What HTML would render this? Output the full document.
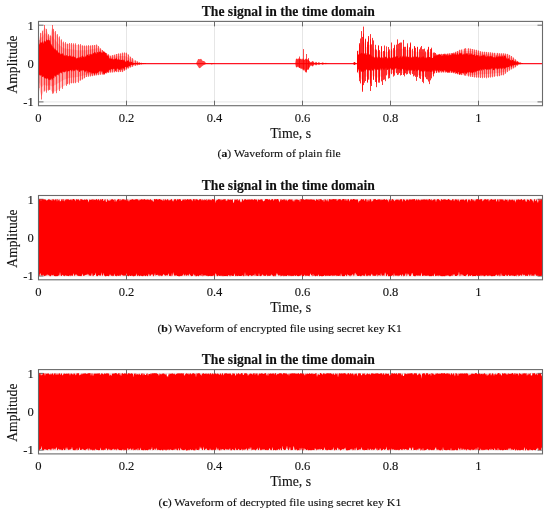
<!DOCTYPE html>
<html><head><meta charset="utf-8"><title>The signal in the time domain</title>
<style>html,body{margin:0;padding:0;background:#fff;} svg{display:block;filter:blur(0.3px);} text{font-family:'Liberation Serif','Times New Roman',serif;fill:#111;stroke:#111;stroke-width:0.12px;}</style></head>
<body>
<svg width="550" height="514" viewBox="0 0 550 514">
<rect width="550" height="514" fill="#fff"/>
<g><path d="M126.5,21.4V105.7M214.5,21.4V105.7M302.5,21.4V105.7M390.5,21.4V105.7M478.5,21.4V105.7M38.5,25.2H542.5M38.5,63.5H542.5M38.5,101.9H542.5" stroke="#e6e6e6" stroke-width="1" fill="none"/><path d="M38.5,105.7v-5M38.5,21.4v5M126.5,105.7v-5M126.5,21.4v5M214.5,105.7v-5M214.5,21.4v5M302.5,105.7v-5M302.5,21.4v5M390.5,105.7v-5M390.5,21.4v5M478.5,105.7v-5M478.5,21.4v5M38.5,25.2h5M542.5,25.2h-5M38.5,63.5h5M542.5,63.5h-5M38.5,101.9h5M542.5,101.9h-5" stroke="#6a6a6a" stroke-width="1" fill="none"/><path d="M38.5,63.50H542.5" stroke="#ff1424" stroke-width="1.25" fill="none"/><path d="M38.6,40.5 L39.1,38.7 L39.6,37.0 L40.1,35.2 L40.6,34.0 L41.1,33.5 L41.6,33.0 L42.1,32.6 L42.6,32.1 L43.1,30.7 L43.6,29.4 L44.1,28.0 L44.6,27.1 L45.1,27.9 L45.6,28.7 L46.1,29.5 L46.6,30.4 L47.1,31.6 L47.6,32.8 L48.1,34.0 L48.6,35.0 L49.1,35.3 L49.6,35.6 L50.1,36.0 L50.6,35.2 L51.1,32.4 L51.6,29.7 L52.1,27.7 L52.6,28.7 L53.1,29.7 L53.6,30.7 L54.1,31.5 L54.6,32.1 L55.1,32.6 L55.6,33.2 L56.1,34.0 L56.6,34.9 L57.1,35.7 L57.6,36.5 L58.1,37.0 L58.6,37.5 L59.1,38.1 L59.6,38.7 L60.1,39.4 L60.6,40.0 L61.1,40.7 L61.6,41.3 L62.1,41.9 L62.6,42.4 L63.1,42.9 L63.6,43.2 L64.1,43.3 L64.6,43.5 L65.1,43.6 L65.6,43.7 L66.1,43.7 L66.6,43.8 L67.1,43.9 L67.6,43.9 L68.1,44.0 L68.6,44.1 L69.1,44.1 L69.6,44.2 L70.1,44.2 L70.6,44.3 L71.1,44.3 L71.6,44.4 L72.1,44.4 L72.6,44.5 L73.1,44.5 L73.6,44.6 L74.1,44.6 L74.6,44.7 L75.1,44.7 L75.6,44.7 L76.1,44.8 L76.6,44.9 L77.1,44.9 L77.6,45.0 L78.1,45.1 L78.6,45.1 L79.1,45.2 L79.6,45.3 L80.1,45.4 L80.6,45.4 L81.1,45.5 L81.6,45.6 L82.1,45.7 L82.6,45.7 L83.1,45.8 L83.6,45.9 L84.1,46.0 L84.6,46.0 L85.1,46.1 L85.6,46.2 L86.1,46.3 L86.6,46.2 L87.1,46.2 L87.6,46.1 L88.1,46.1 L88.6,46.0 L89.1,45.9 L89.6,45.9 L90.1,45.8 L90.6,45.8 L91.1,45.7 L91.6,45.6 L92.1,45.6 L92.6,45.5 L93.1,45.5 L93.6,45.4 L94.1,45.4 L94.6,45.3 L95.1,45.3 L95.6,45.2 L96.1,45.2 L96.6,45.2 L97.1,45.2 L97.6,45.1 L98.1,45.7 L98.6,46.4 L99.1,47.0 L99.6,47.6 L100.1,48.2 L100.6,48.6 L101.1,49.1 L101.6,49.5 L102.1,49.9 L102.6,50.3 L103.1,50.7 L103.6,51.1 L104.1,51.4 L104.6,51.8 L105.1,52.2 L105.6,52.6 L106.1,52.9 L106.6,53.2 L107.1,53.6 L107.6,53.9 L108.1,54.2 L108.6,54.6 L109.1,54.9 L109.6,55.3 L110.1,55.6 L110.6,55.9 L111.1,55.7 L111.6,55.6 L112.1,55.4 L112.6,55.3 L113.1,55.2 L113.6,55.0 L114.1,54.9 L114.6,54.7 L115.1,54.6 L115.6,54.4 L116.1,54.3 L116.6,54.2 L117.1,54.1 L117.6,54.0 L118.1,54.0 L118.6,53.9 L119.1,53.8 L119.6,53.7 L120.1,53.6 L120.6,53.5 L121.1,53.4 L121.6,53.4 L122.1,53.3 L122.6,53.3 L123.1,53.3 L123.6,53.2 L124.1,53.2 L124.6,53.1 L125.1,53.1 L125.6,53.1 L126.1,53.0 L126.6,53.4 L127.1,53.9 L127.6,54.3 L128.1,54.8 L128.6,55.3 L129.1,55.8 L129.6,56.2 L130.1,56.7 L130.6,57.2 L131.1,57.5 L131.6,57.9 L132.1,58.3 L132.6,58.6 L133.1,59.0 L133.6,59.3 L134.1,59.7 L134.6,60.1 L135.1,60.4 L135.6,60.6 L136.1,60.9 L136.6,61.1 L137.1,61.3 L137.6,61.5 L138.1,61.8 L138.6,62.0 L139.1,62.2 L139.6,62.4 L140.1,62.6 L140.6,62.7 L141.1,62.8 L141.6,62.8 L142.1,62.9 L142.6,63.0 L143.1,63.0 L143.6,63.1 L144.1,63.1 L144.6,63.2 L145.1,63.3 L145.6,63.3 L145.6,64.0 L145.1,64.0 L144.6,64.0 L144.1,64.0 L143.6,64.1 L143.1,64.1 L142.6,64.2 L142.1,64.3 L141.6,64.3 L141.1,64.5 L140.6,64.6 L140.1,64.7 L139.6,64.8 L139.1,64.9 L138.6,65.0 L138.1,65.1 L137.6,65.2 L137.1,65.3 L136.6,65.4 L136.1,65.6 L135.6,65.7 L135.1,65.8 L134.6,65.9 L134.1,66.1 L133.6,66.3 L133.1,66.5 L132.6,66.7 L132.1,66.9 L131.6,67.1 L131.1,67.3 L130.6,67.5 L130.1,67.6 L129.6,67.8 L129.1,68.0 L128.6,68.2 L128.1,68.4 L127.6,68.7 L127.1,69.1 L126.6,69.4 L126.1,69.7 L125.6,70.0 L125.1,70.3 L124.6,70.7 L124.1,71.0 L123.6,71.3 L123.1,71.6 L122.6,71.8 L122.1,71.8 L121.6,71.8 L121.1,71.8 L120.6,71.8 L120.1,71.8 L119.6,71.9 L119.1,71.9 L118.6,71.9 L118.1,71.9 L117.6,71.9 L117.1,71.9 L116.6,72.0 L116.1,72.0 L115.6,72.1 L115.1,72.1 L114.6,72.1 L114.1,72.2 L113.6,72.2 L113.1,72.3 L112.6,72.3 L112.1,72.4 L111.6,72.4 L111.1,72.5 L110.6,72.5 L110.1,72.6 L109.6,72.6 L109.1,72.7 L108.6,72.8 L108.1,72.8 L107.6,73.0 L107.1,73.2 L106.6,73.3 L106.1,73.5 L105.6,73.6 L105.1,73.8 L104.6,74.0 L104.1,74.1 L103.6,74.2 L103.1,74.3 L102.6,74.3 L102.1,74.4 L101.6,74.4 L101.1,74.5 L100.6,74.6 L100.1,74.7 L99.6,74.8 L99.1,74.8 L98.6,74.9 L98.1,75.0 L97.6,75.1 L97.1,75.2 L96.6,75.2 L96.1,75.3 L95.6,75.4 L95.1,75.5 L94.6,75.6 L94.1,75.6 L93.6,75.7 L93.1,75.8 L92.6,75.8 L92.1,75.9 L91.6,76.0 L91.1,76.1 L90.6,76.1 L90.1,76.2 L89.6,76.3 L89.1,76.4 L88.6,76.4 L88.1,76.5 L87.6,76.6 L87.1,76.6 L86.6,76.7 L86.1,76.8 L85.6,77.2 L85.1,77.5 L84.6,77.8 L84.1,78.1 L83.6,78.4 L83.1,78.7 L82.6,79.0 L82.1,79.3 L81.6,79.6 L81.1,79.9 L80.6,80.2 L80.1,80.5 L79.6,80.8 L79.1,81.1 L78.6,81.4 L78.1,81.7 L77.6,82.0 L77.1,82.1 L76.6,82.2 L76.1,82.3 L75.6,82.4 L75.1,82.5 L74.6,82.6 L74.1,82.7 L73.6,82.8 L73.1,82.8 L72.6,82.8 L72.1,82.9 L71.6,82.9 L71.1,82.9 L70.6,82.9 L70.1,82.9 L69.6,83.0 L69.1,83.2 L68.6,83.4 L68.1,83.6 L67.6,83.8 L67.1,84.0 L66.6,84.2 L66.1,84.5 L65.6,84.8 L65.1,85.2 L64.6,85.5 L64.1,85.8 L63.6,86.1 L63.1,86.4 L62.6,86.7 L62.1,87.0 L61.6,87.4 L61.1,87.8 L60.6,88.2 L60.1,88.5 L59.6,88.9 L59.1,89.2 L58.6,89.5 L58.1,89.9 L57.6,90.2 L57.1,90.5 L56.6,90.8 L56.1,91.1 L55.6,91.2 L55.1,91.3 L54.6,91.4 L54.1,91.5 L53.6,91.6 L53.1,91.7 L52.6,91.8 L52.1,91.9 L51.6,91.3 L51.1,90.7 L50.6,90.1 L50.1,89.5 L49.6,88.9 L49.1,89.1 L48.6,89.4 L48.1,89.8 L47.6,90.1 L47.1,90.4 L46.6,90.8 L46.1,91.0 L45.6,90.7 L45.1,90.3 L44.6,90.0 L44.1,90.3 L43.6,91.5 L43.1,92.6 L42.6,93.8 L42.1,95.0 L41.6,96.2 L41.1,95.6 L40.6,93.7 L40.1,91.9 L39.6,90.1 L39.1,88.2 L38.6,86.4ZM437.0,53.8 L437.5,53.9 L438.0,53.9 L438.5,54.0 L439.0,54.0 L439.5,54.0 L440.0,54.0 L440.5,54.0 L441.0,54.0 L441.5,54.0 L442.0,54.0 L442.5,53.9 L443.0,53.9 L443.5,53.9 L444.0,53.9 L444.5,53.9 L445.0,53.9 L445.5,53.9 L446.0,53.8 L446.5,53.8 L447.0,53.7 L447.5,53.7 L448.0,53.6 L448.5,53.5 L449.0,53.5 L449.5,53.4 L450.0,53.4 L450.5,53.3 L451.0,53.3 L451.5,53.2 L452.0,53.2 L452.5,53.1 L453.0,52.9 L453.5,52.7 L454.0,52.6 L454.5,52.4 L455.0,52.2 L455.5,52.0 L456.0,51.8 L456.5,51.6 L457.0,51.3 L457.5,51.1 L458.0,50.9 L458.5,50.7 L459.0,50.5 L459.5,50.3 L460.0,50.1 L460.5,49.9 L461.0,49.8 L461.5,49.7 L462.0,49.6 L462.5,49.5 L463.0,49.4 L463.5,49.2 L464.0,49.1 L464.5,49.0 L465.0,48.9 L465.5,48.8 L466.0,48.8 L466.5,48.8 L467.0,48.8 L467.5,48.8 L468.0,48.8 L468.5,48.8 L469.0,48.8 L469.5,48.8 L470.0,48.8 L470.5,48.8 L471.0,48.9 L471.5,49.0 L472.0,49.1 L472.5,49.2 L473.0,49.3 L473.5,49.5 L474.0,49.6 L474.5,49.7 L475.0,49.9 L475.5,50.0 L476.0,50.1 L476.5,50.3 L477.0,50.4 L477.5,50.6 L478.0,50.8 L478.5,50.9 L479.0,51.1 L479.5,51.2 L480.0,51.4 L480.5,51.5 L481.0,51.7 L481.5,51.8 L482.0,51.8 L482.5,51.9 L483.0,51.9 L483.5,52.0 L484.0,52.0 L484.5,52.1 L485.0,52.1 L485.5,52.2 L486.0,52.2 L486.5,52.3 L487.0,52.3 L487.5,52.4 L488.0,52.4 L488.5,52.5 L489.0,52.5 L489.5,52.6 L490.0,52.6 L490.5,52.6 L491.0,52.7 L491.5,52.7 L492.0,52.8 L492.5,52.8 L493.0,52.9 L493.5,52.9 L494.0,52.9 L494.5,53.0 L495.0,53.0 L495.5,53.1 L496.0,53.1 L496.5,53.2 L497.0,53.2 L497.5,53.2 L498.0,53.3 L498.5,53.3 L499.0,53.4 L499.5,53.4 L500.0,53.4 L500.5,53.5 L501.0,53.5 L501.5,53.5 L502.0,53.5 L502.5,53.5 L503.0,53.5 L503.5,53.5 L504.0,53.5 L504.5,53.5 L505.0,53.6 L505.5,53.7 L506.0,53.9 L506.5,54.0 L507.0,54.2 L507.5,54.3 L508.0,54.5 L508.5,54.6 L509.0,54.8 L509.5,55.1 L510.0,55.3 L510.5,55.6 L511.0,55.9 L511.5,56.1 L512.0,56.6 L512.5,57.0 L513.0,57.4 L513.5,57.9 L514.0,58.3 L514.5,58.8 L515.0,59.2 L515.5,59.6 L516.0,59.9 L516.5,60.3 L517.0,60.7 L517.5,61.1 L518.0,61.3 L518.5,61.6 L519.0,61.8 L519.5,62.1 L520.0,62.3 L520.5,62.5 L521.0,62.6 L521.5,62.8 L522.0,62.9 L522.5,63.0 L523.0,63.2 L523.0,63.8 L522.5,63.9 L522.0,64.0 L521.5,64.0 L521.0,64.1 L520.5,64.2 L520.0,64.4 L519.5,64.6 L519.0,64.9 L518.5,65.1 L518.0,65.3 L517.5,65.6 L517.0,65.9 L516.5,66.3 L516.0,66.7 L515.5,67.1 L515.0,67.5 L514.5,67.9 L514.0,68.1 L513.5,68.3 L513.0,68.6 L512.5,68.8 L512.0,69.1 L511.5,69.3 L511.0,69.5 L510.5,69.8 L510.0,70.1 L509.5,70.4 L509.0,70.7 L508.5,71.0 L508.0,71.3 L507.5,71.6 L507.0,72.1 L506.5,72.5 L506.0,73.0 L505.5,73.5 L505.0,74.0 L504.5,74.3 L504.0,74.4 L503.5,74.6 L503.0,74.7 L502.5,74.9 L502.0,75.0 L501.5,75.2 L501.0,75.3 L500.5,75.5 L500.0,75.6 L499.5,75.7 L499.0,75.7 L498.5,75.8 L498.0,75.9 L497.5,75.9 L497.0,76.0 L496.5,76.1 L496.0,76.1 L495.5,76.2 L495.0,76.3 L494.5,76.3 L494.0,76.4 L493.5,76.5 L493.0,76.5 L492.5,76.6 L492.0,76.6 L491.5,76.7 L491.0,76.8 L490.5,76.8 L490.0,76.9 L489.5,77.0 L489.0,77.0 L488.5,77.1 L488.0,77.2 L487.5,77.2 L487.0,77.3 L486.5,77.3 L486.0,77.3 L485.5,77.3 L485.0,77.3 L484.5,77.3 L484.0,77.3 L483.5,77.3 L483.0,77.3 L482.5,77.3 L482.0,77.3 L481.5,77.3 L481.0,77.3 L480.5,77.3 L480.0,77.3 L479.5,77.4 L479.0,77.3 L478.5,77.3 L478.0,77.3 L477.5,77.2 L477.0,77.2 L476.5,77.2 L476.0,77.1 L475.5,77.1 L475.0,77.1 L474.5,77.0 L474.0,77.0 L473.5,77.0 L473.0,77.0 L472.5,76.9 L472.0,76.9 L471.5,76.8 L471.0,76.7 L470.5,76.6 L470.0,76.4 L469.5,76.3 L469.0,76.2 L468.5,76.1 L468.0,76.0 L467.5,75.9 L467.0,75.8 L466.5,75.7 L466.0,75.6 L465.5,75.5 L465.0,75.4 L464.5,75.3 L464.0,75.2 L463.5,75.2 L463.0,75.1 L462.5,75.0 L462.0,75.0 L461.5,74.9 L461.0,74.8 L460.5,74.8 L460.0,74.7 L459.5,74.7 L459.0,74.5 L458.5,74.4 L458.0,74.3 L457.5,74.2 L457.0,74.0 L456.5,73.9 L456.0,73.8 L455.5,73.7 L455.0,73.5 L454.5,73.4 L454.0,73.3 L453.5,73.2 L453.0,73.0 L452.5,72.9 L452.0,72.9 L451.5,72.8 L451.0,72.8 L450.5,72.8 L450.0,72.7 L449.5,72.7 L449.0,72.7 L448.5,72.7 L448.0,72.6 L447.5,72.6 L447.0,72.6 L446.5,72.5 L446.0,72.5 L445.5,72.5 L445.0,72.4 L444.5,72.4 L444.0,72.4 L443.5,72.4 L443.0,72.4 L442.5,72.4 L442.0,72.4 L441.5,72.4 L441.0,72.4 L440.5,72.4 L440.0,72.4 L439.5,72.4 L439.0,72.4 L438.5,72.5 L438.0,72.5 L437.5,72.5 L437.0,72.5Z" fill="#ff0000" fill-opacity="0.22"/><path d="M38.6,42.0 L39.1,40.9 L39.6,39.8 L40.1,38.7 L40.6,37.9 L41.1,37.6 L41.6,37.2 L42.1,36.9 L42.6,36.5 L43.1,35.6 L43.6,34.7 L44.1,33.7 L44.6,33.0 L45.1,33.3 L45.6,33.6 L46.1,33.9 L46.6,34.4 L47.1,35.1 L47.6,35.8 L48.1,36.5 L48.6,37.1 L49.1,37.4 L49.6,37.6 L50.1,38.3 L50.6,38.3 L51.1,37.2 L51.6,36.1 L52.1,35.5 L52.6,36.5 L53.1,37.5 L53.6,38.2 L54.1,38.9 L54.6,39.4 L55.1,39.9 L55.6,40.4 L56.1,41.0 L56.6,41.7 L57.1,42.3 L57.6,42.9 L58.1,43.4 L58.6,43.9 L59.1,44.3 L59.6,44.9 L60.1,45.4 L60.6,45.9 L61.1,46.3 L61.6,46.8 L62.1,47.1 L62.6,47.5 L63.1,47.9 L63.6,48.1 L64.1,48.2 L64.6,48.4 L65.1,48.5 L65.6,48.6 L66.1,48.6 L66.6,48.7 L67.1,48.8 L67.6,48.9 L68.1,49.0 L68.6,49.0 L69.1,49.1 L69.6,49.2 L70.1,49.3 L70.6,49.3 L71.1,49.4 L71.6,49.4 L72.1,49.5 L72.6,49.5 L73.1,49.6 L73.6,49.7 L74.1,49.7 L74.6,49.8 L75.1,49.8 L75.6,49.9 L76.1,50.0 L76.6,50.1 L77.1,50.2 L77.6,50.3 L78.1,50.3 L78.6,50.3 L79.1,50.3 L79.6,50.3 L80.1,50.3 L80.6,50.3 L81.1,50.3 L81.6,50.3 L82.1,50.3 L82.6,50.3 L83.1,50.3 L83.6,50.3 L84.1,50.3 L84.6,50.3 L85.1,50.3 L85.6,50.3 L86.1,50.3 L86.6,50.2 L87.1,50.1 L87.6,50.0 L88.1,49.9 L88.6,49.8 L89.1,49.7 L89.6,49.6 L90.1,49.5 L90.6,49.5 L91.1,49.4 L91.6,49.3 L92.1,49.2 L92.6,49.1 L93.1,49.0 L93.6,48.9 L94.1,48.8 L94.6,48.7 L95.1,48.6 L95.6,48.5 L96.1,48.4 L96.6,48.3 L97.1,48.2 L97.6,48.1 L98.1,48.3 L98.6,48.6 L99.1,48.9 L99.6,49.2 L100.1,49.6 L100.6,49.9 L101.1,50.2 L101.6,50.5 L102.1,50.9 L102.6,51.2 L103.1,51.5 L103.6,51.8 L104.1,52.1 L104.6,52.4 L105.1,52.8 L105.6,53.1 L106.1,53.5 L106.6,53.8 L107.1,54.2 L107.6,54.5 L108.1,54.9 L108.6,55.3 L109.1,55.7 L109.6,56.1 L110.1,56.6 L110.6,56.9 L111.1,56.8 L111.6,56.8 L112.1,56.7 L112.6,56.7 L113.1,56.6 L113.6,56.5 L114.1,56.5 L114.6,56.4 L115.1,56.4 L115.6,56.3 L116.1,56.3 L116.6,56.2 L117.1,56.2 L117.6,56.2 L118.1,56.2 L118.6,56.2 L119.1,56.1 L119.6,56.1 L120.1,56.1 L120.6,56.1 L121.1,56.1 L121.6,56.1 L122.1,56.1 L122.6,56.1 L123.1,56.1 L123.6,56.1 L124.1,56.1 L124.6,56.1 L125.1,56.2 L125.6,56.2 L126.1,56.3 L126.6,56.5 L127.1,56.9 L127.6,57.2 L128.1,57.6 L128.6,57.9 L129.1,58.2 L129.6,58.6 L130.1,58.9 L130.6,59.2 L131.1,59.5 L131.6,59.7 L132.1,60.0 L132.6,60.3 L133.1,60.5 L133.6,60.8 L134.1,61.1 L134.6,61.3 L135.1,61.6 L135.6,61.7 L136.1,61.8 L136.6,62.0 L137.1,62.1 L137.6,62.3 L138.1,62.4 L138.6,62.5 L139.1,62.7 L139.6,62.8 L140.1,62.9 L140.6,63.0 L141.1,63.0 L141.6,63.0 L142.1,63.1 L142.6,63.1 L143.1,63.1 L143.6,63.2 L144.1,63.2 L144.6,63.2 L145.1,63.3 L145.6,63.3 L145.6,64.0 L145.1,64.0 L144.6,64.0 L144.1,64.0 L143.6,64.0 L143.1,64.1 L142.6,64.1 L142.1,64.1 L141.6,64.2 L141.1,64.3 L140.6,64.3 L140.1,64.4 L139.6,64.5 L139.1,64.5 L138.6,64.6 L138.1,64.7 L137.6,64.8 L137.1,64.8 L136.6,64.9 L136.1,65.0 L135.6,65.1 L135.1,65.1 L134.6,65.3 L134.1,65.5 L133.6,65.6 L133.1,65.8 L132.6,66.0 L132.1,66.2 L131.6,66.4 L131.1,66.5 L130.6,66.7 L130.1,66.9 L129.6,67.1 L129.1,67.3 L128.6,67.5 L128.1,67.7 L127.6,68.0 L127.1,68.3 L126.6,68.6 L126.1,68.9 L125.6,69.2 L125.1,69.5 L124.6,69.8 L124.1,70.0 L123.6,70.2 L123.1,70.4 L122.6,70.6 L122.1,70.6 L121.6,70.6 L121.1,70.7 L120.6,70.7 L120.1,70.7 L119.6,70.8 L119.1,70.8 L118.6,70.8 L118.1,70.9 L117.6,70.9 L117.1,70.9 L116.6,71.0 L116.1,71.0 L115.6,71.1 L115.1,71.1 L114.6,71.2 L114.1,71.2 L113.6,71.3 L113.1,71.3 L112.6,71.4 L112.1,71.4 L111.6,71.5 L111.1,71.5 L110.6,71.6 L110.1,71.7 L109.6,71.9 L109.1,72.0 L108.6,72.2 L108.1,72.4 L107.6,72.6 L107.1,72.8 L106.6,73.0 L106.1,73.2 L105.6,73.4 L105.1,73.6 L104.6,73.8 L104.1,74.1 L103.6,73.9 L103.1,73.6 L102.6,73.4 L102.1,73.1 L101.6,73.2 L101.1,73.3 L100.6,73.4 L100.1,73.5 L99.6,73.7 L99.1,73.8 L98.6,73.9 L98.1,74.1 L97.6,74.2 L97.1,74.3 L96.6,74.4 L96.1,74.6 L95.6,74.7 L95.1,74.8 L94.6,74.8 L94.1,74.8 L93.6,74.8 L93.1,74.8 L92.6,74.8 L92.1,74.8 L91.6,74.8 L91.1,74.8 L90.6,74.8 L90.1,74.8 L89.6,74.8 L89.1,74.8 L88.6,74.8 L88.1,74.8 L87.6,74.8 L87.1,74.8 L86.6,74.8 L86.1,74.8 L85.6,75.0 L85.1,75.1 L84.6,75.2 L84.1,75.4 L83.6,75.5 L83.1,75.6 L82.6,75.8 L82.1,75.9 L81.6,76.0 L81.1,76.1 L80.6,76.2 L80.1,76.4 L79.6,76.5 L79.1,76.6 L78.6,76.7 L78.1,76.9 L77.6,77.0 L77.1,77.1 L76.6,77.1 L76.1,77.2 L75.6,77.3 L75.1,77.3 L74.6,77.4 L74.1,77.5 L73.6,77.6 L73.1,77.6 L72.6,77.6 L72.1,77.6 L71.6,77.6 L71.1,77.7 L70.6,77.7 L70.1,77.7 L69.6,77.8 L69.1,78.0 L68.6,78.1 L68.1,78.3 L67.6,78.4 L67.1,78.6 L66.6,78.8 L66.1,79.0 L65.6,79.2 L65.1,79.4 L64.6,79.6 L64.1,79.8 L63.6,80.0 L63.1,80.3 L62.6,80.5 L62.1,80.8 L61.6,81.1 L61.1,81.4 L60.6,81.7 L60.1,82.0 L59.6,82.4 L59.1,82.7 L58.6,82.9 L58.1,83.2 L57.6,83.5 L57.1,83.8 L56.6,84.1 L56.1,84.5 L55.6,84.8 L55.1,85.1 L54.6,85.3 L54.1,85.6 L53.6,85.9 L53.1,86.1 L52.6,86.4 L52.1,86.5 L51.6,86.2 L51.1,86.0 L50.6,85.7 L50.1,85.5 L49.6,85.2 L49.1,85.3 L48.6,85.4 L48.1,85.5 L47.6,85.6 L47.1,85.7 L46.6,85.8 L46.1,85.8 L45.6,85.4 L45.1,85.1 L44.6,84.8 L44.1,84.8 L43.6,85.3 L43.1,85.8 L42.6,86.3 L42.1,86.9 L41.6,87.5 L41.1,87.0 L40.6,85.9 L40.1,84.7 L39.6,83.6 L39.1,82.5 L38.6,81.5ZM437.0,54.8 L437.5,54.8 L438.0,54.8 L438.5,54.8 L439.0,54.7 L439.5,54.7 L440.0,54.6 L440.5,54.6 L441.0,54.5 L441.5,54.5 L442.0,54.4 L442.5,54.4 L443.0,54.3 L443.5,54.3 L444.0,54.2 L444.5,54.2 L445.0,54.2 L445.5,54.2 L446.0,54.1 L446.5,54.0 L447.0,54.0 L447.5,53.9 L448.0,53.9 L448.5,53.8 L449.0,53.8 L449.5,53.7 L450.0,53.7 L450.5,53.6 L451.0,53.6 L451.5,53.5 L452.0,53.5 L452.5,53.4 L453.0,53.3 L453.5,53.2 L454.0,53.1 L454.5,53.0 L455.0,52.8 L455.5,52.7 L456.0,52.6 L456.5,52.5 L457.0,52.3 L457.5,52.2 L458.0,52.1 L458.5,51.9 L459.0,51.8 L459.5,51.7 L460.0,51.6 L460.5,51.5 L461.0,51.5 L461.5,51.4 L462.0,51.4 L462.5,51.3 L463.0,51.3 L463.5,51.2 L464.0,51.1 L464.5,51.1 L465.0,51.0 L465.5,51.0 L466.0,51.0 L466.5,51.0 L467.0,51.0 L467.5,51.0 L468.0,51.0 L468.5,51.0 L469.0,51.0 L469.5,51.0 L470.0,51.0 L470.5,51.0 L471.0,51.0 L471.5,51.1 L472.0,51.1 L472.5,51.2 L473.0,51.3 L473.5,51.4 L474.0,51.6 L474.5,51.7 L475.0,51.8 L475.5,52.0 L476.0,52.1 L476.5,52.2 L477.0,52.4 L477.5,52.5 L478.0,52.7 L478.5,52.8 L479.0,53.0 L479.5,53.1 L480.0,53.2 L480.5,53.3 L481.0,53.4 L481.5,53.5 L482.0,53.5 L482.5,53.6 L483.0,53.6 L483.5,53.7 L484.0,53.7 L484.5,53.7 L485.0,53.8 L485.5,53.8 L486.0,53.9 L486.5,53.9 L487.0,53.9 L487.5,54.0 L488.0,54.0 L488.5,54.1 L489.0,54.1 L489.5,54.2 L490.0,54.2 L490.5,54.2 L491.0,54.2 L491.5,54.3 L492.0,54.3 L492.5,54.3 L493.0,54.3 L493.5,54.3 L494.0,54.3 L494.5,54.4 L495.0,54.4 L495.5,54.4 L496.0,54.4 L496.5,54.4 L497.0,54.4 L497.5,54.5 L498.0,54.5 L498.5,54.5 L499.0,54.5 L499.5,54.5 L500.0,54.6 L500.5,54.6 L501.0,54.6 L501.5,54.6 L502.0,54.7 L502.5,54.7 L503.0,54.7 L503.5,54.7 L504.0,54.8 L504.5,54.8 L505.0,54.9 L505.5,55.1 L506.0,55.3 L506.5,55.5 L507.0,55.7 L507.5,55.9 L508.0,56.1 L508.5,56.3 L509.0,56.5 L509.5,56.8 L510.0,57.0 L510.5,57.3 L511.0,57.5 L511.5,57.7 L512.0,58.0 L512.5,58.4 L513.0,58.7 L513.5,59.0 L514.0,59.4 L514.5,59.7 L515.0,60.0 L515.5,60.3 L516.0,60.6 L516.5,60.9 L517.0,61.2 L517.5,61.4 L518.0,61.7 L518.5,61.9 L519.0,62.1 L519.5,62.3 L520.0,62.5 L520.5,62.7 L521.0,62.8 L521.5,62.9 L522.0,63.0 L522.5,63.1 L523.0,63.2 L523.0,63.7 L522.5,63.8 L522.0,63.8 L521.5,63.9 L521.0,64.0 L520.5,64.1 L520.0,64.2 L519.5,64.3 L519.0,64.5 L518.5,64.7 L518.0,64.8 L517.5,65.0 L517.0,65.3 L516.5,65.6 L516.0,65.9 L515.5,66.2 L515.0,66.5 L514.5,66.8 L514.0,66.9 L513.5,67.1 L513.0,67.3 L512.5,67.5 L512.0,67.7 L511.5,67.9 L511.0,68.1 L510.5,68.3 L510.0,68.5 L509.5,68.8 L509.0,69.0 L508.5,69.2 L508.0,69.5 L507.5,69.7 L507.0,70.1 L506.5,70.5 L506.0,70.9 L505.5,71.2 L505.0,71.6 L504.5,71.9 L504.0,72.0 L503.5,72.1 L503.0,72.2 L502.5,72.3 L502.0,72.4 L501.5,72.5 L501.0,72.6 L500.5,72.7 L500.0,72.8 L499.5,72.9 L499.0,72.9 L498.5,73.0 L498.0,73.0 L497.5,73.1 L497.0,73.1 L496.5,73.2 L496.0,73.2 L495.5,73.3 L495.0,73.3 L494.5,73.3 L494.0,73.4 L493.5,73.4 L493.0,73.5 L492.5,73.5 L492.0,73.6 L491.5,73.6 L491.0,73.7 L490.5,73.7 L490.0,73.7 L489.5,73.8 L489.0,73.9 L488.5,73.9 L488.0,74.0 L487.5,74.0 L487.0,74.1 L486.5,74.1 L486.0,74.1 L485.5,74.1 L485.0,74.1 L484.5,74.2 L484.0,74.2 L483.5,74.2 L483.0,74.2 L482.5,74.2 L482.0,74.3 L481.5,74.3 L481.0,74.3 L480.5,74.3 L480.0,74.3 L479.5,74.3 L479.0,74.4 L478.5,74.5 L478.0,74.5 L477.5,74.6 L477.0,74.7 L476.5,74.7 L476.0,74.8 L475.5,74.9 L475.0,74.9 L474.5,75.0 L474.0,75.0 L473.5,75.1 L473.0,75.2 L472.5,75.2 L472.0,75.2 L471.5,75.1 L471.0,75.1 L470.5,75.0 L470.0,75.0 L469.5,74.9 L469.0,74.8 L468.5,74.8 L468.0,74.7 L467.5,74.7 L467.0,74.6 L466.5,74.5 L466.0,74.5 L465.5,74.4 L465.0,74.3 L464.5,74.3 L464.0,74.3 L463.5,74.2 L463.0,74.2 L462.5,74.2 L462.0,74.2 L461.5,74.2 L461.0,74.2 L460.5,74.2 L460.0,74.2 L459.5,74.2 L459.0,74.1 L458.5,73.9 L458.0,73.8 L457.5,73.7 L457.0,73.6 L456.5,73.5 L456.0,73.4 L455.5,73.3 L455.0,73.2 L454.5,73.0 L454.0,72.9 L453.5,72.8 L453.0,72.7 L452.5,72.6 L452.0,72.6 L451.5,72.5 L451.0,72.5 L450.5,72.4 L450.0,72.4 L449.5,72.4 L449.0,72.3 L448.5,72.3 L448.0,72.2 L447.5,72.2 L447.0,72.2 L446.5,72.1 L446.0,72.1 L445.5,72.0 L445.0,72.0 L444.5,72.0 L444.0,71.9 L443.5,71.9 L443.0,71.9 L442.5,71.9 L442.0,71.9 L441.5,71.9 L441.0,71.9 L440.5,71.9 L440.0,71.8 L439.5,71.8 L439.0,71.8 L438.5,71.8 L438.0,71.8 L437.5,71.8 L437.0,71.8ZM357.2,54.4 L357.7,52.4 L358.2,50.8 L358.7,50.0 L359.2,49.1 L359.7,48.2 L360.2,46.9 L360.7,45.5 L361.2,44.1 L361.7,42.8 L362.2,41.9 L362.7,41.3 L363.2,40.7 L363.7,40.1 L364.2,41.3 L364.7,43.0 L365.2,44.6 L365.7,46.2 L366.2,46.7 L366.7,47.3 L367.2,47.8 L367.7,46.9 L368.2,46.1 L368.7,45.2 L369.2,45.0 L369.7,44.8 L370.2,44.6 L370.7,45.2 L371.2,45.7 L371.7,46.2 L372.2,46.8 L372.7,47.4 L373.2,48.0 L373.7,48.6 L374.2,49.2 L374.7,49.9 L375.2,50.5 L375.7,50.9 L376.2,51.0 L376.7,51.0 L377.2,51.1 L377.7,51.2 L378.2,51.3 L378.7,51.4 L379.2,51.5 L379.7,51.6 L380.2,51.7 L380.7,51.8 L381.2,51.8 L381.7,51.9 L382.2,51.8 L382.7,51.8 L383.2,51.7 L383.7,51.6 L384.2,51.6 L384.7,51.5 L385.2,51.6 L385.7,51.7 L386.2,51.8 L386.7,51.9 L387.2,52.0 L387.7,52.1 L388.2,52.2 L388.7,52.0 L389.2,51.7 L389.7,51.3 L390.2,50.9 L390.7,50.5 L391.2,50.1 L391.7,50.0 L392.2,50.2 L392.7,50.3 L393.2,50.5 L393.7,50.7 L394.2,50.9 L394.7,50.8 L395.2,50.3 L395.7,49.9 L396.2,49.4 L396.7,48.9 L397.2,48.5 L397.7,48.3 L398.2,48.5 L398.7,48.8 L399.2,49.0 L399.7,49.2 L400.2,49.5 L400.7,49.6 L401.2,49.3 L401.7,49.1 L402.2,48.9 L402.7,48.6 L403.2,48.4 L403.7,48.3 L404.2,48.5 L404.7,48.8 L405.2,49.1 L405.7,49.3 L406.2,49.6 L406.7,49.9 L407.2,50.0 L407.7,50.0 L408.2,50.0 L408.7,50.0 L409.2,49.9 L409.7,49.8 L410.2,49.8 L410.7,49.8 L411.2,50.1 L411.7,50.3 L412.2,50.6 L412.7,50.8 L413.2,51.1 L413.7,51.3 L414.2,51.5 L414.7,51.6 L415.2,51.6 L415.7,51.7 L416.2,51.8 L416.7,51.8 L417.2,51.9 L417.7,51.9 L418.2,51.8 L418.7,51.8 L419.2,51.8 L419.7,51.7 L420.2,51.7 L420.7,51.6 L421.2,51.7 L421.7,51.9 L422.2,52.1 L422.7,52.3 L423.2,52.5 L423.7,52.7 L424.2,52.9 L424.7,53.0 L425.2,52.8 L425.7,52.7 L426.2,52.6 L426.7,52.5 L427.2,52.3 L427.7,52.1 L428.2,52.1 L428.7,52.1 L429.2,52.1 L429.7,52.2 L430.2,52.2 L430.7,52.2 L431.2,52.3 L431.7,52.4 L432.2,52.8 L432.7,53.1 L433.2,53.5 L433.7,53.8 L434.2,54.2 L434.7,54.5 L435.2,54.8 L435.7,54.8 L436.2,54.8 L436.7,54.8 L437.2,54.8 L437.7,54.8 L438.2,54.8 L438.7,54.8 L438.7,71.8 L438.2,71.8 L437.7,71.8 L437.2,71.8 L436.7,71.9 L436.2,72.1 L435.7,72.3 L435.2,72.6 L434.7,72.8 L434.2,73.1 L433.7,73.4 L433.2,73.7 L432.7,74.2 L432.2,74.8 L431.7,75.3 L431.2,75.8 L430.7,76.4 L430.2,76.9 L429.7,77.5 L429.2,77.4 L428.7,77.1 L428.2,76.7 L427.7,76.3 L427.2,75.9 L426.7,75.5 L426.2,75.4 L425.7,75.7 L425.2,76.0 L424.7,76.3 L424.2,76.7 L423.7,77.0 L423.2,77.3 L422.7,76.9 L422.2,76.6 L421.7,76.2 L421.2,75.9 L420.7,75.5 L420.2,75.2 L419.7,74.8 L419.2,74.8 L418.7,75.0 L418.2,75.3 L417.7,75.5 L417.2,75.7 L416.7,75.9 L416.2,75.5 L415.7,75.2 L415.2,74.9 L414.7,74.6 L414.2,74.2 L413.7,73.9 L413.2,73.6 L412.7,73.5 L412.2,73.4 L411.7,73.3 L411.2,73.2 L410.7,73.1 L410.2,73.0 L409.7,73.0 L409.2,72.9 L408.7,72.8 L408.2,72.7 L407.7,72.6 L407.2,72.6 L406.7,72.5 L406.2,72.7 L405.7,72.9 L405.2,73.0 L404.7,73.2 L404.2,73.4 L403.7,73.4 L403.2,73.3 L402.7,73.2 L402.2,73.1 L401.7,73.0 L401.2,72.9 L400.7,72.8 L400.2,72.7 L399.7,72.6 L399.2,72.5 L398.7,72.4 L398.2,72.4 L397.7,72.3 L397.2,72.3 L396.7,72.4 L396.2,72.4 L395.7,72.5 L395.2,72.6 L394.7,72.7 L394.2,72.7 L393.7,72.8 L393.2,72.9 L392.7,73.0 L392.2,73.1 L391.7,73.1 L391.2,73.2 L390.7,73.3 L390.2,73.4 L389.7,73.5 L389.2,73.6 L388.7,73.8 L388.2,74.0 L387.7,74.2 L387.2,74.4 L386.7,74.6 L386.2,74.8 L385.7,75.1 L385.2,75.3 L384.7,75.6 L384.2,76.0 L383.7,76.3 L383.2,76.6 L382.7,76.9 L382.2,77.1 L381.7,77.0 L381.2,76.8 L380.7,76.6 L380.2,76.4 L379.7,76.3 L379.2,76.2 L378.7,76.6 L378.2,77.0 L377.7,77.4 L377.2,77.8 L376.7,78.2 L376.2,78.4 L375.7,77.8 L375.2,77.2 L374.7,76.6 L374.2,76.0 L373.7,75.4 L373.2,74.8 L372.7,75.8 L372.2,76.8 L371.7,77.7 L371.2,78.7 L370.7,79.7 L370.2,80.6 L369.7,80.0 L369.2,79.3 L368.7,78.6 L368.2,78.0 L367.7,77.3 L367.2,76.6 L366.7,76.6 L366.2,76.7 L365.7,76.7 L365.2,76.7 L364.7,77.1 L364.2,78.2 L363.7,79.2 L363.2,80.2 L362.7,81.2 L362.2,80.7 L361.7,79.8 L361.2,78.9 L360.7,77.9 L360.2,77.0 L359.7,76.1 L359.2,75.1 L358.7,74.2 L358.2,73.2 L357.7,71.9 L357.2,70.5Z" fill="#ff0000" fill-opacity="0.2"/><path d="M67.5,43.6V84.2M69.5,43.0V84.6M71.5,43.0V83.4M73.5,43.3V83.3M75.5,43.3V83.2M78.5,44.2V82.8M80.5,44.1V80.6M82.5,45.3V79.6M84.5,45.5V78.3M86.5,45.4V77.0M88.5,45.1V76.7M90.5,45.4V76.5M92.5,45.1V76.2M94.5,45.0V75.7M96.5,44.5V75.4M98.5,46.1V75.2M100.5,48.3V74.8M102.5,50.0V74.5M104.5,51.7V74.0M106.5,53.1V73.4M108.5,54.3V72.9M110.5,55.7V72.6M112.5,55.1V72.5M114.5,54.7V72.3M116.5,54.0V72.1M118.5,53.4V72.2M120.5,53.4V72.0M122.5,52.6V72.1M124.5,52.4V70.8M126.5,52.7V69.6M128.5,54.4V68.5M130.5,56.7V67.5M132.5,58.2V66.8M135.5,60.4V65.9M137.5,61.4V65.3M139.5,62.3V64.8M141.5,62.8V64.4M143.5,63.1V64.1M145.5,63.3V64.0M38.5,40.0V75.0M40.5,32.9V75.4M42.5,30.7V76.4M44.5,25.0V77.8M46.5,28.9V79.1M48.5,34.2V80.0M50.5,35.5V80.1M52.5,25.0V79.4M53.5,28.9V78.1M55.5,31.1V76.2M57.5,34.2V74.9M59.5,36.4V73.8M61.5,39.4V72.9M63.5,41.6V72.2M65.5,42.1V71.8M38.5,44.0V88.0M41.5,42.8V99.5M44.5,41.1V91.5M46.5,39.5V92.7M48.5,40.0V90.6M49.5,40.2V90.0M52.5,45.9V93.7M53.5,47.7V93.4M56.5,50.2V93.2M59.5,53.0V91.0M62.5,54.1V88.9M66.5,55.2V85.9M38.9,40.0V88.0M439.5,53.9V72.5M441.5,53.8V72.6M443.5,53.9V72.5M445.5,53.8V72.5M447.5,53.6V72.6M449.5,53.3V72.8M451.5,53.2V72.9M453.5,52.7V73.2M455.5,51.8V73.8M457.5,51.0V74.3M459.5,49.8V74.8M461.5,49.5V75.1M464.5,48.6V75.5M465.5,48.1V75.7M468.5,48.2V76.5M470.5,48.6V76.8M472.5,49.0V77.0M474.5,49.5V77.5M476.5,49.8V77.7M478.5,50.4V77.7M480.5,51.2V78.0M482.5,51.6V78.2M484.5,51.7V77.9M486.5,51.9V78.3M488.5,52.2V77.8M490.5,52.3V77.6M492.5,52.6V77.3M494.5,52.8V76.8M497.5,52.9V76.5M499.5,53.2V76.2M501.5,53.3V75.3M503.5,53.3V75.3M505.5,53.6V73.7M507.5,53.9V72.1M509.5,54.9V70.6M511.5,56.0V69.4M513.5,57.5V68.4M515.5,59.3V67.3M517.5,61.0V65.7M520.5,62.5V64.2M522.5,63.0V63.9" stroke="#ff0000" stroke-opacity="0.6" stroke-width="1" fill="none"/><path d="M357.5,51.1V72.5M359.5,44.5V77.5M360.5,38.5V83.4M362.5,36.9V90.5M363.5,33.6V85.1M365.5,39.6V81.0M367.5,44.6V82.1M368.5,37.5V79.7M370.5,39.3V83.6M371.5,44.4V86.0M373.5,40.4V79.7M375.5,49.2V82.0M376.5,49.6V83.5M378.5,45.6V82.6M379.5,50.1V80.2M381.5,46.3V81.4M383.5,51.0V79.9M384.5,50.6V79.5M386.5,46.4V75.4M388.5,50.7V78.6M389.5,49.4V75.5M391.5,49.0V74.2M393.5,48.2V74.0M394.5,46.4V75.6M396.5,44.7V73.2M398.5,43.8V74.5M399.5,42.9V73.0M401.5,42.5V75.0M403.5,47.0V75.0M404.5,46.8V73.7M405.5,46.8V73.3M407.5,45.7V74.1M409.5,47.3V73.7M410.5,43.7V74.8M412.5,48.8V74.1M414.5,46.6V75.6M415.5,47.8V76.9M417.5,47.2V76.9M419.5,49.3V75.6M420.5,47.4V79.0M422.5,49.2V81.9M423.5,49.2V79.6M425.5,51.5V77.3M427.5,49.6V79.5M428.5,47.4V81.5M430.5,49.1V80.3M431.5,49.2V78.4M433.5,52.6V74.1M434.5,52.5V73.4M436.5,54.5V73.0M438.5,54.6V72.5M357.5,50.8V69.0M359.5,43.2V70.7M361.5,31.1V70.9M363.5,26.6V70.9M365.5,38.7V70.7M367.5,41.7V70.5M368.5,36.0V70.4M370.5,34.1V70.3M372.5,37.9V70.0M375.5,44.8V69.8M378.5,45.5V69.6M381.5,46.3V69.4M384.5,45.5V69.2M388.5,47.0V69.0M391.5,42.5V69.2M394.5,44.8V69.3M397.5,39.4V69.5M400.5,42.5V69.9M403.5,39.9V70.4M407.5,43.3V70.5M410.5,42.5V70.6M414.5,46.0V70.8M417.5,46.8V71.0M421.5,46.0V71.2M424.5,48.6V71.4M428.5,46.8V71.4M431.5,47.7V71.1M435.5,53.0V70.8M357.5,58.0V72.0M359.5,53.8V81.2M362.5,53.3V91.8M364.5,53.6V82.7M367.5,53.9V82.7M370.5,55.2V91.0M373.5,56.5V79.7M376.5,57.0V87.2M379.5,57.4V82.7M382.5,57.5V85.0M385.5,57.5V81.2M389.5,57.5V78.1M393.5,57.3V76.6M397.5,57.0V75.0M400.5,56.8V75.5M404.5,56.5V76.4M406.5,56.8V74.5M413.5,57.0V76.4M416.5,57.0V80.9M419.5,57.1V78.2M423.5,57.3V83.2M426.5,57.5V79.1M429.5,57.1V84.1M433.5,56.7V76.4" stroke="#ff0000" stroke-opacity="0.8" stroke-width="1" fill="none"/><path d="M38.6,45.1 L39.1,44.8 L39.6,43.8 L40.1,42.9 L40.6,42.1 L41.1,42.8 L41.6,42.7 L42.1,41.5 L42.6,41.3 L43.1,43.7 L43.6,42.3 L44.1,40.7 L44.6,40.8 L45.1,41.9 L45.6,41.3 L46.1,40.7 L46.6,39.5 L47.1,39.9 L47.6,40.5 L48.1,38.9 L48.6,40.3 L49.1,39.7 L49.6,41.5 L50.1,40.3 L50.6,43.1 L51.1,44.7 L51.6,44.0 L52.1,47.0 L52.6,48.1 L53.1,46.6 L53.6,49.0 L54.1,47.4 L54.6,49.2 L55.1,49.4 L55.6,49.1 L56.1,49.9 L56.6,51.6 L57.1,50.7 L57.6,50.6 L58.1,52.6 L58.6,52.3 L59.1,53.7 L59.6,52.5 L60.1,53.0 L60.6,54.5 L61.1,53.9 L61.6,54.1 L62.1,53.5 L62.6,53.1 L63.1,55.9 L63.6,53.6 L64.1,55.9 L64.6,54.6 L65.1,56.4 L65.6,54.9 L66.1,56.5 L66.6,55.6 L67.1,54.8 L67.6,56.3 L68.1,56.2 L68.6,56.3 L69.1,55.8 L69.6,55.2 L70.1,56.5 L70.6,55.1 L71.1,56.8 L71.6,56.7 L72.1,56.0 L72.6,57.3 L73.1,55.6 L73.6,56.3 L74.1,57.5 L74.6,56.4 L75.1,57.3 L75.6,57.2 L76.1,58.2 L76.6,58.6 L77.1,58.0 L77.6,58.3 L78.1,56.4 L78.6,57.9 L79.1,58.2 L79.6,56.8 L80.1,57.1 L80.6,56.8 L81.1,58.1 L81.6,56.2 L82.1,56.3 L82.6,55.1 L83.1,56.2 L83.6,56.7 L84.1,57.4 L84.6,57.3 L85.1,55.5 L85.6,57.3 L86.1,54.9 L86.6,56.6 L87.1,54.6 L87.6,55.1 L88.1,54.0 L88.6,56.1 L89.1,55.9 L89.6,53.8 L90.1,54.7 L90.6,53.8 L91.1,54.3 L91.6,54.4 L92.1,53.0 L92.6,54.9 L93.1,53.1 L93.6,53.5 L94.1,52.2 L94.6,51.9 L95.1,52.3 L95.6,52.5 L96.1,54.0 L96.6,53.7 L97.1,52.3 L97.6,52.0 L98.1,52.4 L98.6,52.8 L99.1,51.1 L99.6,52.3 L100.1,51.3 L100.6,52.1 L101.1,52.6 L101.6,52.2 L102.1,52.9 L102.6,53.1 L103.1,51.3 L103.6,51.6 L104.1,52.1 L104.6,52.5 L105.1,52.8 L105.6,52.8 L106.1,53.6 L106.6,55.0 L107.1,56.2 L107.6,55.1 L108.1,55.5 L108.6,56.2 L109.1,57.4 L109.6,58.3 L110.1,59.2 L110.6,58.1 L111.1,59.0 L111.6,58.1 L112.1,59.5 L112.6,57.9 L113.1,59.7 L113.6,58.8 L114.1,59.4 L114.6,59.0 L115.1,58.4 L115.6,59.0 L116.1,57.8 L116.6,57.8 L117.1,59.2 L117.6,59.2 L118.1,60.2 L118.6,58.0 L119.1,59.6 L119.6,59.5 L120.1,59.8 L120.6,60.3 L121.1,59.8 L121.6,60.0 L122.1,59.8 L122.6,60.3 L123.1,59.3 L123.6,60.2 L124.1,60.6 L124.6,59.4 L125.1,61.8 L125.6,61.2 L126.1,62.0 L126.6,60.3 L127.1,60.9 L127.6,60.5 L128.1,60.2 L128.6,60.3 L129.1,61.1 L129.6,62.6 L130.1,61.3 L130.6,62.4 L131.1,61.8 L131.6,61.7 L132.1,62.0 L132.6,62.8 L133.1,62.7 L133.6,62.8 L134.1,62.9 L134.6,62.9 L135.1,63.1 L135.6,63.4 L136.1,63.0 L136.6,63.3 L137.1,63.1 L137.6,63.1 L138.1,63.2 L138.6,63.1 L139.1,63.5 L139.6,63.3 L140.1,63.2 L140.6,63.2 L141.1,63.2 L141.6,63.2 L142.1,63.3 L142.6,63.4 L143.1,63.5 L143.6,63.5 L144.1,63.2 L144.6,63.4 L145.1,63.5 L145.6,63.2 L145.6,64.0 L145.1,63.8 L144.6,63.8 L144.1,64.0 L143.6,63.9 L143.1,64.1 L142.6,63.9 L142.1,64.1 L141.6,64.1 L141.1,64.1 L140.6,63.9 L140.1,64.0 L139.6,63.9 L139.1,63.9 L138.6,64.2 L138.1,64.2 L137.6,64.0 L137.1,64.1 L136.6,64.2 L136.1,64.1 L135.6,64.0 L135.1,64.5 L134.6,64.1 L134.1,64.8 L133.6,64.9 L133.1,64.5 L132.6,64.9 L132.1,64.9 L131.6,65.1 L131.1,64.8 L130.6,65.0 L130.1,66.6 L129.6,66.1 L129.1,66.5 L128.6,65.8 L128.1,66.7 L127.6,67.0 L127.1,67.9 L126.6,67.6 L126.1,67.5 L125.6,67.1 L125.1,66.8 L124.6,69.7 L124.1,69.4 L123.6,69.1 L123.1,67.9 L122.6,67.7 L122.1,69.9 L121.6,70.0 L121.1,68.2 L120.6,68.9 L120.1,70.2 L119.6,69.8 L119.1,69.8 L118.6,68.9 L118.1,69.4 L117.6,69.0 L117.1,68.2 L116.6,69.3 L116.1,70.7 L115.6,70.9 L115.1,70.5 L114.6,68.8 L114.1,69.1 L113.6,69.3 L113.1,68.6 L112.6,70.1 L112.1,69.5 L111.6,68.9 L111.1,69.4 L110.6,69.6 L110.1,71.8 L109.6,69.9 L109.1,69.8 L108.6,71.9 L108.1,71.6 L107.6,71.9 L107.1,72.6 L106.6,71.2 L106.1,72.9 L105.6,73.1 L105.1,72.7 L104.6,74.3 L104.1,74.9 L103.6,74.7 L103.1,73.1 L102.6,71.2 L102.1,71.5 L101.6,72.4 L101.1,70.8 L100.6,70.8 L100.1,72.1 L99.6,70.8 L99.1,72.3 L98.6,71.9 L98.1,71.9 L97.6,73.2 L97.1,73.0 L96.6,73.6 L96.1,74.2 L95.6,72.4 L95.1,74.0 L94.6,75.1 L94.1,74.3 L93.6,72.9 L93.1,73.6 L92.6,73.5 L92.1,72.8 L91.6,74.4 L91.1,72.2 L90.6,73.1 L90.1,72.1 L89.6,71.9 L89.1,73.8 L88.6,71.1 L88.1,73.3 L87.6,73.5 L87.1,71.0 L86.6,70.8 L86.1,70.6 L85.6,72.8 L85.1,71.1 L84.6,72.6 L84.1,70.7 L83.6,70.5 L83.1,70.2 L82.6,70.0 L82.1,70.8 L81.6,70.2 L81.1,71.4 L80.6,70.0 L80.1,71.2 L79.6,71.9 L79.1,71.9 L78.6,69.1 L78.1,71.1 L77.6,69.9 L77.1,71.1 L76.6,69.8 L76.1,69.6 L75.6,70.4 L75.1,69.3 L74.6,71.5 L74.1,70.4 L73.6,70.4 L73.1,71.3 L72.6,69.5 L72.1,71.8 L71.6,70.6 L71.1,71.7 L70.6,70.1 L70.1,70.0 L69.6,71.6 L69.1,71.1 L68.6,71.3 L68.1,71.2 L67.6,71.2 L67.1,72.5 L66.6,71.0 L66.1,70.2 L65.6,71.4 L65.1,71.2 L64.6,72.5 L64.1,72.3 L63.6,71.6 L63.1,71.8 L62.6,71.8 L62.1,71.6 L61.6,73.3 L61.1,73.5 L60.6,72.8 L60.1,72.4 L59.6,73.6 L59.1,72.6 L58.6,75.3 L58.1,75.4 L57.6,73.9 L57.1,74.9 L56.6,74.5 L56.1,76.1 L55.6,77.3 L55.1,75.4 L54.6,75.8 L54.1,78.5 L53.6,77.9 L53.1,77.6 L52.6,80.2 L52.1,78.8 L51.6,78.4 L51.1,80.8 L50.6,78.9 L50.1,78.7 L49.6,80.1 L49.1,80.2 L48.6,78.6 L48.1,78.9 L47.6,78.8 L47.1,78.0 L46.6,78.6 L46.1,78.4 L45.6,78.1 L45.1,79.1 L44.6,77.3 L44.1,78.5 L43.6,76.6 L43.1,76.5 L42.6,77.1 L42.1,76.7 L41.6,74.7 L41.1,75.6 L40.6,75.7 L40.1,74.6 L39.6,75.7 L39.1,74.5 L38.6,75.8Z" fill="#ff0000"/><path d="M357.2,59.1 L357.7,55.7 L358.2,54.4 L358.7,54.5 L359.2,53.2 L359.7,54.8 L360.2,53.6 L360.7,53.8 L361.2,52.7 L361.7,52.9 L362.2,53.4 L362.7,54.2 L363.2,53.5 L363.7,53.8 L364.2,54.4 L364.7,53.5 L365.2,52.5 L365.7,54.1 L366.2,55.2 L366.7,52.8 L367.2,54.0 L367.7,54.6 L368.2,54.4 L368.7,53.6 L369.2,54.9 L369.7,54.0 L370.2,54.2 L370.7,55.2 L371.2,54.9 L371.7,56.1 L372.2,57.6 L372.7,55.8 L373.2,58.1 L373.7,56.4 L374.2,57.8 L374.7,57.0 L375.2,57.8 L375.7,58.1 L376.2,58.1 L376.7,56.2 L377.2,58.4 L377.7,56.3 L378.2,58.1 L378.7,56.2 L379.2,57.0 L379.7,56.6 L380.2,58.0 L380.7,57.2 L381.2,57.9 L381.7,56.9 L382.2,57.4 L382.7,58.8 L383.2,58.0 L383.7,57.7 L384.2,58.3 L384.7,59.1 L385.2,57.2 L385.7,56.6 L386.2,57.0 L386.7,56.7 L387.2,57.4 L387.7,58.4 L388.2,58.4 L388.7,56.6 L389.2,56.7 L389.7,57.3 L390.2,58.6 L390.7,57.5 L391.2,57.7 L391.7,56.9 L392.2,57.6 L392.7,57.8 L393.2,57.0 L393.7,57.7 L394.2,58.1 L394.7,57.0 L395.2,57.2 L395.7,56.3 L396.2,56.6 L396.7,56.0 L397.2,56.0 L397.7,56.0 L398.2,58.3 L398.7,57.8 L399.2,57.3 L399.7,57.9 L400.2,56.1 L400.7,56.6 L401.2,57.2 L401.7,57.9 L402.2,57.0 L402.7,55.8 L403.2,55.5 L403.7,55.4 L404.2,57.4 L404.7,57.8 L405.2,55.8 L405.7,57.7 L406.2,55.6 L406.7,57.9 L407.2,57.6 L407.7,57.0 L408.2,57.1 L408.7,56.4 L409.2,58.4 L409.7,56.6 L410.2,56.5 L410.7,58.0 L411.2,57.4 L411.7,57.2 L412.2,57.4 L412.7,56.1 L413.2,56.1 L413.7,58.5 L414.2,57.8 L414.7,57.5 L415.2,57.4 L415.7,56.5 L416.2,56.2 L416.7,57.4 L417.2,55.8 L417.7,55.9 L418.2,56.8 L418.7,57.5 L419.2,58.5 L419.7,57.2 L420.2,56.8 L420.7,58.7 L421.2,56.8 L421.7,57.4 L422.2,57.4 L422.7,56.2 L423.2,56.4 L423.7,56.2 L424.2,58.4 L424.7,57.3 L425.2,58.1 L425.7,57.5 L426.2,57.7 L426.7,58.7 L427.2,57.3 L427.7,56.4 L428.2,57.9 L428.7,56.1 L429.2,57.4 L429.7,56.9 L430.2,57.0 L430.7,57.8 L431.2,58.1 L431.7,58.4 L432.2,57.8 L432.7,57.9 L433.2,58.1 L433.7,56.5 L434.2,56.4 L434.7,55.4 L435.2,56.5 L435.7,55.3 L436.2,55.7 L436.7,56.1 L437.2,56.0 L437.7,56.9 L438.2,55.9 L438.7,56.5 L438.7,71.0 L438.2,71.6 L437.7,69.9 L437.2,70.1 L436.7,71.7 L436.2,70.8 L435.7,69.7 L435.2,69.8 L434.7,72.0 L434.2,69.5 L433.7,70.6 L433.2,71.6 L432.7,71.9 L432.2,70.2 L431.7,71.7 L431.2,72.2 L430.7,72.1 L430.2,71.9 L429.7,72.1 L429.2,70.2 L428.7,71.7 L428.2,71.0 L427.7,71.6 L427.2,71.4 L426.7,72.1 L426.2,71.2 L425.7,71.1 L425.2,70.6 L424.7,69.8 L424.2,71.6 L423.7,70.1 L423.2,71.7 L422.7,72.3 L422.2,72.4 L421.7,70.3 L421.2,71.4 L420.7,71.9 L420.2,70.9 L419.7,70.8 L419.2,71.2 L418.7,69.5 L418.2,70.5 L417.7,70.6 L417.2,69.6 L416.7,71.9 L416.2,71.0 L415.7,69.6 L415.2,69.7 L414.7,70.8 L414.2,71.0 L413.7,71.7 L413.2,70.3 L412.7,70.6 L412.2,69.5 L411.7,71.3 L411.2,69.8 L410.7,70.3 L410.2,69.5 L409.7,70.3 L409.2,70.0 L408.7,71.4 L408.2,69.5 L407.7,70.8 L407.2,69.6 L406.7,71.0 L406.2,70.8 L405.7,69.5 L405.2,69.8 L404.7,70.4 L404.2,69.0 L403.7,69.9 L403.2,70.8 L402.7,68.8 L402.2,68.9 L401.7,71.1 L401.2,70.7 L400.7,70.7 L400.2,69.8 L399.7,69.8 L399.2,68.8 L398.7,68.9 L398.2,69.9 L397.7,68.4 L397.2,69.0 L396.7,68.0 L396.2,67.9 L395.7,69.5 L395.2,68.0 L394.7,68.3 L394.2,69.5 L393.7,68.1 L393.2,69.8 L392.7,70.2 L392.2,69.2 L391.7,70.1 L391.2,68.9 L390.7,68.1 L390.2,69.5 L389.7,68.7 L389.2,69.1 L388.7,68.0 L388.2,68.6 L387.7,70.0 L387.2,70.0 L386.7,70.2 L386.2,67.6 L385.7,70.3 L385.2,67.7 L384.7,68.3 L384.2,70.5 L383.7,69.9 L383.2,69.2 L382.7,69.0 L382.2,68.1 L381.7,69.1 L381.2,70.6 L380.7,70.4 L380.2,68.3 L379.7,70.7 L379.2,68.3 L378.7,69.1 L378.2,70.3 L377.7,69.4 L377.2,69.7 L376.7,70.9 L376.2,69.2 L375.7,69.1 L375.2,70.0 L374.7,68.5 L374.2,70.5 L373.7,70.5 L373.2,68.8 L372.7,71.0 L372.2,70.4 L371.7,68.6 L371.2,70.6 L370.7,70.4 L370.2,71.0 L369.7,70.2 L369.2,70.6 L368.7,69.8 L368.2,70.0 L367.7,69.5 L367.2,70.6 L366.7,69.8 L366.2,69.2 L365.7,71.7 L365.2,69.4 L364.7,71.0 L364.2,70.2 L363.7,72.0 L363.2,72.0 L362.7,71.6 L362.2,71.1 L361.7,71.5 L361.2,72.0 L360.7,71.5 L360.2,69.5 L359.7,70.9 L359.2,70.0 L358.7,69.0 L358.2,71.1 L357.7,70.4 L357.2,67.5Z" fill="#ff0000"/><path d="M437.0,55.0 L437.5,55.0 L438.0,55.4 L438.5,54.7 L439.0,54.9 L439.5,54.5 L440.0,54.7 L440.5,54.4 L441.0,55.2 L441.5,56.3 L442.0,56.0 L442.5,55.2 L443.0,53.8 L443.5,56.2 L444.0,53.7 L444.5,53.5 L445.0,55.5 L445.5,55.1 L446.0,55.4 L446.5,54.0 L447.0,55.7 L447.5,55.6 L448.0,53.2 L448.5,55.7 L449.0,55.1 L449.5,55.3 L450.0,54.2 L450.5,55.0 L451.0,55.3 L451.5,55.2 L452.0,53.4 L452.5,53.1 L453.0,54.4 L453.5,53.8 L454.0,54.9 L454.5,53.8 L455.0,52.9 L455.5,53.5 L456.0,55.1 L456.5,54.4 L457.0,52.9 L457.5,52.9 L458.0,53.4 L458.5,55.0 L459.0,53.8 L459.5,53.1 L460.0,52.9 L460.5,53.1 L461.0,53.9 L461.5,53.0 L462.0,52.8 L462.5,54.8 L463.0,54.4 L463.5,54.3 L464.0,53.3 L464.5,53.8 L465.0,55.1 L465.5,53.3 L466.0,53.8 L466.5,52.9 L467.0,53.7 L467.5,52.8 L468.0,54.8 L468.5,55.4 L469.0,52.8 L469.5,53.6 L470.0,55.3 L470.5,52.9 L471.0,54.9 L471.5,52.9 L472.0,53.9 L472.5,54.8 L473.0,54.9 L473.5,55.1 L474.0,53.9 L474.5,54.6 L475.0,53.6 L475.5,56.2 L476.0,55.6 L476.5,54.7 L477.0,55.1 L477.5,55.5 L478.0,55.0 L478.5,55.1 L479.0,56.8 L479.5,54.8 L480.0,57.1 L480.5,56.0 L481.0,55.8 L481.5,55.9 L482.0,54.6 L482.5,55.5 L483.0,55.9 L483.5,54.8 L484.0,54.7 L484.5,54.8 L485.0,56.5 L485.5,54.8 L486.0,57.5 L486.5,56.6 L487.0,56.9 L487.5,55.1 L488.0,56.4 L488.5,55.6 L489.0,57.6 L489.5,56.1 L490.0,55.7 L490.5,56.3 L491.0,56.0 L491.5,55.5 L492.0,57.2 L492.5,55.6 L493.0,57.6 L493.5,57.1 L494.0,57.4 L494.5,57.0 L495.0,57.4 L495.5,57.6 L496.0,54.9 L496.5,55.6 L497.0,57.4 L497.5,56.4 L498.0,57.4 L498.5,56.1 L499.0,55.8 L499.5,57.1 L500.0,55.5 L500.5,56.0 L501.0,57.2 L501.5,56.1 L502.0,56.9 L502.5,55.5 L503.0,55.7 L503.5,57.9 L504.0,55.8 L504.5,55.7 L505.0,55.5 L505.5,55.9 L506.0,57.1 L506.5,58.0 L507.0,59.0 L507.5,59.5 L508.0,58.0 L508.5,58.6 L509.0,58.6 L509.5,59.0 L510.0,60.4 L510.5,59.4 L511.0,60.5 L511.5,61.0 L512.0,59.9 L512.5,60.0 L513.0,59.5 L513.5,61.1 L514.0,61.5 L514.5,61.3 L515.0,60.8 L515.5,61.7 L516.0,61.1 L516.5,62.1 L517.0,62.4 L517.5,61.8 L518.0,62.3 L518.5,62.3 L519.0,62.4 L519.5,62.9 L520.0,62.7 L520.5,63.0 L521.0,63.1 L521.5,62.9 L522.0,63.2 L522.5,63.2 L523.0,63.3 L523.0,63.6 L522.5,63.6 L522.0,63.7 L521.5,63.7 L521.0,63.6 L520.5,63.7 L520.0,63.6 L519.5,63.9 L519.0,64.0 L518.5,64.3 L518.0,64.1 L517.5,64.8 L517.0,63.7 L516.5,65.2 L516.0,65.1 L515.5,64.3 L515.0,65.2 L514.5,65.0 L514.0,64.7 L513.5,65.7 L513.0,65.6 L512.5,65.2 L512.0,67.1 L511.5,67.0 L511.0,66.2 L510.5,65.2 L510.0,67.4 L509.5,65.5 L509.0,67.0 L508.5,67.3 L508.0,67.1 L507.5,67.0 L507.0,67.8 L506.5,67.2 L506.0,67.8 L505.5,68.1 L505.0,68.4 L504.5,69.7 L504.0,68.0 L503.5,68.0 L503.0,67.6 L502.5,68.7 L502.0,69.1 L501.5,70.1 L501.0,68.1 L500.5,69.3 L500.0,67.6 L499.5,69.3 L499.0,68.0 L498.5,69.1 L498.0,69.2 L497.5,68.9 L497.0,70.3 L496.5,68.4 L496.0,68.3 L495.5,68.4 L495.0,68.9 L494.5,69.9 L494.0,70.6 L493.5,69.9 L493.0,69.9 L492.5,68.3 L492.0,68.0 L491.5,69.4 L491.0,68.2 L490.5,69.2 L490.0,69.4 L489.5,69.3 L489.0,70.2 L488.5,69.1 L488.0,68.8 L487.5,70.2 L487.0,69.3 L486.5,70.2 L486.0,69.4 L485.5,69.2 L485.0,68.8 L484.5,68.7 L484.0,70.7 L483.5,69.7 L483.0,69.5 L482.5,68.8 L482.0,70.4 L481.5,70.7 L481.0,69.6 L480.5,68.8 L480.0,70.9 L479.5,69.9 L479.0,71.3 L478.5,70.6 L478.0,70.5 L477.5,71.0 L477.0,71.2 L476.5,71.3 L476.0,71.8 L475.5,72.7 L475.0,70.7 L474.5,72.1 L474.0,72.5 L473.5,71.9 L473.0,73.4 L472.5,73.2 L472.0,73.1 L471.5,72.4 L471.0,72.6 L470.5,72.6 L470.0,73.5 L469.5,71.8 L469.0,71.9 L468.5,72.6 L468.0,73.1 L467.5,72.1 L467.0,73.2 L466.5,74.1 L466.0,73.4 L465.5,72.6 L465.0,74.0 L464.5,71.5 L464.0,73.6 L463.5,73.7 L463.0,72.7 L462.5,73.1 L462.0,73.4 L461.5,73.2 L461.0,72.8 L460.5,74.3 L460.0,74.5 L459.5,74.4 L459.0,74.2 L458.5,72.0 L458.0,72.1 L457.5,74.3 L457.0,73.0 L456.5,73.1 L456.0,72.7 L455.5,71.3 L455.0,71.4 L454.5,72.6 L454.0,72.5 L453.5,71.9 L453.0,72.6 L452.5,71.8 L452.0,71.1 L451.5,72.8 L451.0,71.2 L450.5,70.6 L450.0,71.7 L449.5,72.0 L449.0,71.5 L448.5,72.8 L448.0,72.7 L447.5,72.6 L447.0,70.8 L446.5,72.3 L446.0,71.7 L445.5,70.9 L445.0,70.0 L444.5,71.2 L444.0,69.9 L443.5,72.3 L443.0,71.4 L442.5,71.3 L442.0,71.5 L441.5,70.1 L441.0,71.1 L440.5,70.7 L440.0,71.6 L439.5,69.9 L439.0,70.3 L438.5,71.5 L438.0,70.6 L437.5,70.5 L437.0,70.6Z" fill="#ff0000"/><path d="M353.0,63.4 L353.5,62.7 L354.0,62.0 L354.5,62.1 L355.0,62.2 L355.5,62.8 L356.0,63.3 L356.0,63.7 L355.5,64.2 L355.0,64.8 L354.5,64.9 L354.0,65.0 L353.5,64.3 L353.0,63.6Z" fill="#ff0000"/><path d="M196.0,63.4 L196.5,62.5 L197.0,61.5 L197.5,60.4 L198.0,59.2 L198.5,58.9 L199.0,59.0 L199.5,59.2 L200.0,59.3 L200.5,58.9 L201.0,58.7 L201.5,59.3 L202.0,60.0 L202.5,60.7 L203.0,60.9 L203.5,61.0 L204.0,61.1 L204.5,61.3 L205.0,61.9 L205.5,62.5 L206.0,62.9 L206.5,63.0 L207.0,63.1 L207.5,63.1 L208.0,63.2 L208.5,63.2 L209.0,63.2 L209.5,63.2 L210.0,63.2 L210.5,63.2 L211.0,63.2 L211.5,63.2 L212.0,63.3 L212.5,63.3 L213.0,63.3 L213.5,63.3 L214.0,63.3 L214.5,63.3 L215.0,63.3 L215.0,63.7 L214.5,63.8 L214.0,63.8 L213.5,63.9 L213.0,64.0 L212.5,64.1 L212.0,64.6 L211.5,64.5 L211.0,64.0 L210.5,64.0 L210.0,64.0 L209.5,64.0 L209.0,64.0 L208.5,63.9 L208.0,63.9 L207.5,63.9 L207.0,63.9 L206.5,64.0 L206.0,64.1 L205.5,64.3 L205.0,64.4 L204.5,64.7 L204.0,64.9 L203.5,65.2 L203.0,65.5 L202.5,65.9 L202.0,66.2 L201.5,66.7 L201.0,67.2 L200.5,67.7 L200.0,68.0 L199.5,68.3 L199.0,67.9 L198.5,67.2 L198.0,66.5 L197.5,65.7 L197.0,65.0 L196.5,64.3 L196.0,63.6Z" fill="#ff0000" fill-opacity="0.72"/><path d="M295.4,62.5 L295.9,58.9 L296.4,58.7 L296.9,58.4 L297.4,58.8 L297.9,59.4 L298.4,58.8 L298.9,58.0 L299.4,58.5 L299.9,59.3 L300.4,59.1 L300.9,58.6 L301.4,59.1 L301.9,59.8 L302.4,59.2 L302.9,58.2 L303.4,58.8 L303.9,59.8 L304.4,59.8 L304.9,59.6 L305.4,59.1 L305.9,58.6 L306.4,59.1 L306.9,59.8 L307.4,59.5 L307.9,58.9 L308.4,59.5 L308.9,60.3 L309.4,60.9 L309.9,61.4 L310.4,61.9 L310.9,62.4 L311.4,62.1 L311.9,61.6 L312.4,61.2 L312.9,60.9 L313.4,61.5 L313.9,62.3 L314.4,62.7 L314.9,62.9 L315.4,62.4 L315.9,61.7 L316.4,62.0 L316.9,62.7 L317.4,62.9 L317.9,63.0 L318.4,62.6 L318.9,62.1 L319.4,62.4 L319.9,62.9 L320.4,63.0 L320.9,63.0 L321.4,63.0 L321.9,62.8 L322.4,62.5 L322.9,62.4 L323.4,62.7 L323.9,63.1 L324.4,63.1 L324.9,63.0 L325.4,62.9 L325.9,62.7 L326.4,62.9 L326.9,63.2 L327.4,63.3 L327.9,63.3 L328.4,63.3 L328.9,63.3 L329.4,63.3 L329.9,63.3 L329.9,63.6 L329.4,63.6 L328.9,63.6 L328.4,63.7 L327.9,63.7 L327.4,63.7 L326.9,63.8 L326.4,64.1 L325.9,64.3 L325.4,64.1 L324.9,64.0 L324.4,63.9 L323.9,63.9 L323.4,64.3 L322.9,64.7 L322.4,64.6 L321.9,64.2 L321.4,64.0 L320.9,64.0 L320.4,64.0 L319.9,64.1 L319.4,64.7 L318.9,65.1 L318.4,64.5 L317.9,64.0 L317.4,64.2 L316.9,64.5 L316.4,65.2 L315.9,65.6 L315.4,64.8 L314.9,64.2 L314.4,64.4 L313.9,64.7 L313.4,65.7 L312.9,66.4 L312.4,66.2 L311.9,65.9 L311.4,65.4 L310.9,65.2 L310.4,65.9 L309.9,66.7 L309.4,67.7 L308.9,68.6 L308.4,69.2 L307.9,69.6 L307.4,69.8 L306.9,70.3 L306.4,71.5 L305.9,72.4 L305.4,71.9 L304.9,71.2 L304.4,70.0 L303.9,69.1 L303.4,69.8 L302.9,70.2 L302.4,69.0 L301.9,68.2 L301.4,68.9 L300.9,69.3 L300.4,68.3 L299.9,67.6 L299.4,67.8 L298.9,67.8 L298.4,67.1 L297.9,66.6 L297.4,67.1 L296.9,67.5 L296.4,67.2 L295.9,67.0 L295.4,64.3Z" fill="#ff0000" fill-opacity="0.85"/><path d="M303.5,49.1V70.4M306.5,54.0V72.5M308.5,58.1V69.6M299.5,56.5V68.0" stroke="#ff0000" stroke-opacity="0.8" stroke-width="0.9" fill="none"/><rect x="38.5" y="21.4" width="504.0" height="84.3" fill="none" stroke="#6a6a6a" stroke-width="1.1"/><text x="38.5" y="121.7" text-anchor="middle" font-size="12.6">0</text><text x="126.5" y="121.7" text-anchor="middle" font-size="12.6">0.2</text><text x="214.5" y="121.7" text-anchor="middle" font-size="12.6">0.4</text><text x="302.5" y="121.7" text-anchor="middle" font-size="12.6">0.6</text><text x="390.5" y="121.7" text-anchor="middle" font-size="12.6">0.8</text><text x="478.5" y="121.7" text-anchor="middle" font-size="12.6">1</text><text x="33.8" y="29.5" text-anchor="end" font-size="12.6">1</text><text x="33.8" y="67.8" text-anchor="end" font-size="12.6">0</text><text x="33.8" y="106.2" text-anchor="end" font-size="12.6">-1</text><text x="288.3" y="16.1" text-anchor="middle" font-size="13.65" font-weight="bold">The signal in the time domain</text><text x="290.6" y="137.8" text-anchor="middle" font-size="13.8">Time, s</text><text transform="translate(16.9,64.45) rotate(-90)" text-anchor="middle" font-size="13.6">Amplitude</text><text x="217.6" y="157.3" font-size="11.3" textLength="123.2" lengthAdjust="spacingAndGlyphs">(<tspan font-weight="bold">a</tspan>) Waveform of plain file</text></g>
<g><path d="M126.5,195.5V279.8M214.5,195.5V279.8M302.5,195.5V279.8M390.5,195.5V279.8M478.5,195.5V279.8M38.5,199.3H542.5M38.5,237.6H542.5M38.5,276.0H542.5" stroke="#e6e6e6" stroke-width="1" fill="none"/><path d="M38.5,279.8v-5M38.5,195.5v5M126.5,279.8v-5M126.5,195.5v5M214.5,279.8v-5M214.5,195.5v5M302.5,279.8v-5M302.5,195.5v5M390.5,279.8v-5M390.5,195.5v5M478.5,279.8v-5M478.5,195.5v5M38.5,199.3h5M542.5,199.3h-5M38.5,237.6h5M542.5,237.6h-5M38.5,276.0h5M542.5,276.0h-5" stroke="#6a6a6a" stroke-width="1" fill="none"/><path d="M38.5,199.1 L39.0,199.3 L39.5,199.6 L40.0,199.0 L40.5,199.1 L41.0,201.1 L41.5,199.0 L42.0,199.1 L42.5,199.2 L43.0,199.4 L43.5,199.2 L44.0,199.4 L44.5,199.6 L45.0,199.1 L45.5,199.8 L46.0,199.7 L46.5,200.5 L47.0,200.6 L47.5,200.0 L48.0,199.7 L48.5,199.3 L49.0,199.3 L49.5,199.4 L50.0,199.5 L50.5,200.3 L51.0,199.5 L51.5,199.7 L52.0,201.2 L52.5,199.0 L53.0,199.3 L53.5,199.6 L54.0,199.2 L54.5,200.7 L55.0,199.3 L55.5,199.2 L56.0,199.7 L56.5,199.1 L57.0,201.8 L57.5,199.1 L58.0,199.0 L58.5,200.8 L59.0,199.2 L59.5,199.6 L60.0,201.8 L60.5,200.7 L61.0,200.7 L61.5,199.0 L62.0,199.2 L62.5,199.1 L63.0,201.4 L63.5,199.0 L64.0,199.1 L64.5,201.7 L65.0,199.3 L65.5,199.5 L66.0,200.5 L66.5,199.1 L67.0,199.0 L67.5,199.5 L68.0,199.3 L68.5,199.3 L69.0,199.7 L69.5,200.2 L70.0,199.2 L70.5,199.6 L71.0,200.1 L71.5,199.1 L72.0,200.8 L72.5,199.3 L73.0,199.0 L73.5,199.0 L74.0,199.1 L74.5,199.8 L75.0,199.5 L75.5,201.4 L76.0,199.1 L76.5,199.2 L77.0,199.6 L77.5,199.4 L78.0,199.6 L78.5,199.2 L79.0,199.4 L79.5,200.3 L80.0,200.9 L80.5,199.0 L81.0,199.1 L81.5,199.6 L82.0,199.1 L82.5,200.0 L83.0,199.6 L83.5,200.3 L84.0,199.7 L84.5,199.5 L85.0,199.2 L85.5,200.2 L86.0,199.3 L86.5,199.5 L87.0,199.2 L87.5,200.0 L88.0,199.5 L88.5,202.5 L89.0,200.7 L89.5,199.0 L90.0,199.9 L90.5,199.4 L91.0,200.0 L91.5,199.6 L92.0,199.2 L92.5,199.1 L93.0,200.6 L93.5,199.3 L94.0,199.2 L94.5,200.2 L95.0,199.1 L95.5,200.2 L96.0,199.5 L96.5,199.1 L97.0,199.1 L97.5,200.5 L98.0,199.6 L98.5,199.1 L99.0,199.4 L99.5,201.0 L100.0,199.1 L100.5,199.1 L101.0,200.4 L101.5,199.5 L102.0,199.1 L102.5,199.1 L103.0,199.1 L103.5,201.0 L104.0,200.7 L104.5,199.7 L105.0,199.1 L105.5,199.2 L106.0,202.0 L106.5,202.1 L107.0,199.2 L107.5,199.0 L108.0,200.8 L108.5,199.9 L109.0,200.8 L109.5,200.7 L110.0,199.3 L110.5,200.7 L111.0,199.3 L111.5,199.2 L112.0,199.7 L112.5,199.1 L113.0,199.3 L113.5,200.2 L114.0,199.4 L114.5,199.1 L115.0,202.5 L115.5,199.2 L116.0,199.8 L116.5,202.1 L117.0,199.4 L117.5,199.7 L118.0,199.6 L118.5,199.1 L119.0,199.1 L119.5,199.3 L120.0,201.6 L120.5,199.1 L121.0,199.4 L121.5,200.5 L122.0,199.0 L122.5,199.4 L123.0,199.2 L123.5,199.3 L124.0,199.4 L124.5,199.2 L125.0,200.4 L125.5,199.4 L126.0,199.8 L126.5,199.1 L127.0,201.3 L127.5,199.5 L128.0,199.0 L128.5,200.4 L129.0,201.7 L129.5,200.0 L130.0,199.4 L130.5,200.1 L131.0,199.6 L131.5,199.7 L132.0,199.0 L132.5,199.3 L133.0,199.3 L133.5,199.6 L134.0,200.1 L134.5,199.5 L135.0,199.5 L135.5,199.3 L136.0,199.2 L136.5,199.3 L137.0,199.0 L137.5,199.3 L138.0,199.7 L138.5,199.4 L139.0,201.3 L139.5,199.2 L140.0,200.0 L140.5,199.4 L141.0,199.5 L141.5,199.3 L142.0,199.1 L142.5,199.5 L143.0,199.8 L143.5,199.4 L144.0,199.0 L144.5,199.1 L145.0,199.6 L145.5,199.9 L146.0,199.0 L146.5,199.8 L147.0,199.9 L147.5,199.1 L148.0,199.8 L148.5,199.4 L149.0,199.7 L149.5,200.3 L150.0,199.1 L150.5,199.1 L151.0,200.2 L151.5,200.3 L152.0,199.4 L152.5,200.5 L153.0,201.5 L153.5,201.8 L154.0,199.0 L154.5,199.1 L155.0,199.2 L155.5,199.6 L156.0,199.0 L156.5,199.0 L157.0,199.2 L157.5,199.2 L158.0,200.1 L158.5,199.2 L159.0,199.0 L159.5,199.1 L160.0,199.2 L160.5,199.5 L161.0,199.6 L161.5,199.9 L162.0,199.4 L162.5,200.9 L163.0,199.2 L163.5,199.1 L164.0,201.5 L164.5,199.2 L165.0,199.9 L165.5,199.1 L166.0,199.5 L166.5,200.5 L167.0,199.4 L167.5,199.3 L168.0,199.1 L168.5,200.8 L169.0,199.5 L169.5,200.4 L170.0,200.2 L170.5,200.1 L171.0,199.1 L171.5,199.1 L172.0,199.7 L172.5,201.6 L173.0,199.2 L173.5,201.8 L174.0,199.4 L174.5,199.2 L175.0,199.2 L175.5,199.2 L176.0,199.0 L176.5,200.9 L177.0,199.7 L177.5,199.1 L178.0,199.2 L178.5,199.6 L179.0,199.4 L179.5,199.0 L180.0,199.0 L180.5,199.3 L181.0,200.0 L181.5,201.1 L182.0,200.9 L182.5,199.6 L183.0,199.5 L183.5,199.4 L184.0,199.5 L184.5,199.1 L185.0,200.8 L185.5,199.1 L186.0,199.0 L186.5,200.2 L187.0,199.3 L187.5,199.0 L188.0,199.2 L188.5,199.8 L189.0,199.2 L189.5,199.2 L190.0,199.8 L190.5,199.1 L191.0,199.0 L191.5,200.5 L192.0,199.1 L192.5,201.4 L193.0,199.5 L193.5,199.1 L194.0,199.0 L194.5,199.0 L195.0,200.9 L195.5,199.3 L196.0,199.0 L196.5,199.3 L197.0,199.6 L197.5,199.4 L198.0,199.7 L198.5,200.5 L199.0,199.7 L199.5,199.2 L200.0,199.2 L200.5,199.0 L201.0,199.5 L201.5,199.5 L202.0,201.0 L202.5,199.0 L203.0,199.8 L203.5,199.7 L204.0,200.8 L204.5,199.2 L205.0,199.5 L205.5,200.3 L206.0,199.2 L206.5,199.1 L207.0,201.2 L207.5,199.8 L208.0,199.6 L208.5,199.5 L209.0,199.5 L209.5,199.3 L210.0,200.6 L210.5,199.4 L211.0,199.7 L211.5,200.4 L212.0,199.1 L212.5,199.1 L213.0,199.6 L213.5,199.1 L214.0,199.9 L214.5,199.1 L215.0,199.4 L215.5,203.2 L216.0,199.2 L216.5,201.0 L217.0,199.6 L217.5,199.9 L218.0,199.5 L218.5,199.0 L219.0,199.2 L219.5,199.0 L220.0,199.8 L220.5,199.0 L221.0,200.8 L221.5,199.4 L222.0,199.2 L222.5,199.9 L223.0,199.5 L223.5,199.6 L224.0,199.0 L224.5,199.5 L225.0,199.0 L225.5,199.1 L226.0,201.2 L226.5,199.7 L227.0,201.6 L227.5,199.1 L228.0,199.7 L228.5,199.0 L229.0,199.9 L229.5,199.7 L230.0,199.2 L230.5,199.7 L231.0,199.4 L231.5,199.9 L232.0,199.3 L232.5,199.1 L233.0,200.7 L233.5,203.2 L234.0,202.3 L234.5,199.1 L235.0,200.0 L235.5,199.4 L236.0,199.3 L236.5,199.9 L237.0,199.1 L237.5,199.1 L238.0,201.0 L238.5,199.5 L239.0,200.8 L239.5,199.1 L240.0,199.6 L240.5,202.4 L241.0,201.3 L241.5,202.4 L242.0,199.1 L242.5,199.2 L243.0,199.7 L243.5,201.1 L244.0,199.7 L244.5,199.2 L245.0,199.6 L245.5,199.2 L246.0,199.1 L246.5,199.9 L247.0,200.0 L247.5,199.6 L248.0,199.2 L248.5,199.4 L249.0,199.7 L249.5,199.3 L250.0,199.6 L250.5,199.8 L251.0,199.3 L251.5,199.6 L252.0,199.2 L252.5,199.5 L253.0,199.4 L253.5,200.2 L254.0,199.2 L254.5,199.1 L255.0,199.5 L255.5,199.3 L256.0,200.0 L256.5,199.5 L257.0,199.3 L257.5,202.0 L258.0,199.3 L258.5,199.5 L259.0,199.8 L259.5,199.7 L260.0,200.0 L260.5,199.3 L261.0,199.6 L261.5,199.0 L262.0,199.8 L262.5,199.2 L263.0,201.4 L263.5,201.2 L264.0,200.5 L264.5,201.1 L265.0,199.3 L265.5,199.1 L266.0,199.2 L266.5,199.1 L267.0,199.1 L267.5,199.2 L268.0,199.0 L268.5,199.9 L269.0,199.3 L269.5,199.3 L270.0,199.4 L270.5,200.4 L271.0,199.8 L271.5,199.3 L272.0,199.4 L272.5,199.1 L273.0,199.1 L273.5,201.0 L274.0,199.8 L274.5,199.3 L275.0,199.1 L275.5,199.2 L276.0,199.3 L276.5,199.6 L277.0,199.0 L277.5,199.0 L278.0,199.0 L278.5,199.4 L279.0,201.0 L279.5,202.6 L280.0,199.8 L280.5,199.1 L281.0,201.0 L281.5,199.1 L282.0,199.4 L282.5,200.0 L283.0,199.4 L283.5,199.1 L284.0,200.6 L284.5,199.0 L285.0,199.3 L285.5,199.7 L286.0,201.1 L286.5,199.6 L287.0,199.4 L287.5,201.4 L288.0,199.5 L288.5,200.0 L289.0,199.3 L289.5,199.2 L290.0,199.5 L290.5,199.2 L291.0,199.9 L291.5,199.6 L292.0,199.0 L292.5,199.7 L293.0,201.6 L293.5,199.4 L294.0,202.3 L294.5,199.3 L295.0,200.5 L295.5,199.5 L296.0,199.3 L296.5,199.2 L297.0,200.3 L297.5,199.2 L298.0,199.8 L298.5,200.2 L299.0,199.5 L299.5,199.7 L300.0,202.2 L300.5,199.0 L301.0,199.1 L301.5,199.1 L302.0,199.6 L302.5,199.5 L303.0,199.5 L303.5,199.0 L304.0,199.4 L304.5,200.0 L305.0,199.6 L305.5,199.6 L306.0,199.2 L306.5,199.3 L307.0,199.3 L307.5,199.2 L308.0,199.8 L308.5,199.4 L309.0,199.0 L309.5,199.5 L310.0,199.9 L310.5,199.1 L311.0,199.4 L311.5,199.1 L312.0,199.9 L312.5,199.6 L313.0,199.2 L313.5,199.4 L314.0,200.0 L314.5,199.2 L315.0,200.4 L315.5,200.9 L316.0,199.6 L316.5,199.2 L317.0,199.3 L317.5,199.9 L318.0,199.6 L318.5,199.1 L319.0,201.3 L319.5,199.1 L320.0,199.0 L320.5,199.2 L321.0,199.3 L321.5,199.3 L322.0,199.9 L322.5,200.2 L323.0,200.2 L323.5,199.2 L324.0,202.5 L324.5,199.5 L325.0,199.0 L325.5,199.2 L326.0,200.5 L326.5,199.5 L327.0,201.7 L327.5,199.5 L328.0,199.0 L328.5,201.9 L329.0,199.0 L329.5,199.1 L330.0,199.4 L330.5,199.0 L331.0,200.0 L331.5,199.2 L332.0,199.2 L332.5,199.3 L333.0,199.2 L333.5,199.0 L334.0,199.1 L334.5,199.1 L335.0,199.7 L335.5,199.1 L336.0,199.0 L336.5,199.1 L337.0,201.4 L337.5,199.7 L338.0,199.2 L338.5,199.4 L339.0,199.2 L339.5,199.1 L340.0,199.3 L340.5,199.4 L341.0,199.0 L341.5,200.4 L342.0,200.0 L342.5,199.1 L343.0,199.0 L343.5,199.1 L344.0,199.1 L344.5,199.1 L345.0,201.0 L345.5,199.0 L346.0,199.1 L346.5,199.5 L347.0,201.6 L347.5,199.3 L348.0,199.2 L348.5,199.1 L349.0,199.4 L349.5,201.8 L350.0,199.8 L350.5,199.5 L351.0,199.2 L351.5,199.3 L352.0,199.5 L352.5,199.8 L353.0,199.1 L353.5,199.1 L354.0,199.1 L354.5,199.0 L355.0,199.9 L355.5,199.6 L356.0,199.3 L356.5,199.6 L357.0,199.7 L357.5,199.1 L358.0,200.2 L358.5,203.0 L359.0,200.0 L359.5,201.6 L360.0,200.2 L360.5,200.5 L361.0,199.1 L361.5,199.3 L362.0,199.1 L362.5,199.7 L363.0,199.3 L363.5,199.2 L364.0,199.3 L364.5,201.3 L365.0,199.4 L365.5,199.1 L366.0,199.2 L366.5,199.2 L367.0,202.4 L367.5,199.7 L368.0,199.6 L368.5,199.4 L369.0,201.8 L369.5,199.4 L370.0,199.0 L370.5,199.3 L371.0,199.6 L371.5,202.2 L372.0,199.1 L372.5,201.5 L373.0,200.8 L373.5,199.2 L374.0,199.1 L374.5,199.3 L375.0,199.0 L375.5,199.0 L376.0,199.7 L376.5,200.1 L377.0,200.0 L377.5,199.7 L378.0,199.1 L378.5,199.8 L379.0,199.1 L379.5,199.5 L380.0,199.2 L380.5,199.4 L381.0,200.4 L381.5,199.2 L382.0,199.7 L382.5,199.4 L383.0,200.1 L383.5,199.2 L384.0,199.4 L384.5,199.1 L385.0,199.3 L385.5,200.1 L386.0,200.1 L386.5,199.0 L387.0,199.4 L387.5,200.5 L388.0,199.5 L388.5,202.5 L389.0,199.0 L389.5,199.3 L390.0,200.5 L390.5,199.2 L391.0,201.4 L391.5,199.4 L392.0,199.3 L392.5,199.1 L393.0,199.2 L393.5,199.7 L394.0,200.6 L394.5,201.4 L395.0,199.3 L395.5,200.6 L396.0,199.5 L396.5,199.7 L397.0,199.3 L397.5,200.0 L398.0,199.1 L398.5,199.8 L399.0,200.4 L399.5,200.2 L400.0,199.1 L400.5,199.6 L401.0,199.3 L401.5,199.1 L402.0,199.6 L402.5,202.0 L403.0,199.1 L403.5,199.1 L404.0,200.0 L404.5,199.6 L405.0,199.6 L405.5,201.2 L406.0,200.6 L406.5,199.4 L407.0,199.1 L407.5,199.9 L408.0,199.1 L408.5,200.8 L409.0,199.3 L409.5,199.6 L410.0,199.3 L410.5,199.3 L411.0,199.9 L411.5,199.2 L412.0,199.6 L412.5,199.2 L413.0,199.2 L413.5,199.3 L414.0,199.2 L414.5,199.1 L415.0,199.0 L415.5,201.0 L416.0,199.5 L416.5,199.4 L417.0,199.0 L417.5,200.7 L418.0,199.2 L418.5,199.4 L419.0,199.4 L419.5,200.4 L420.0,199.3 L420.5,200.7 L421.0,199.3 L421.5,200.1 L422.0,199.1 L422.5,199.7 L423.0,199.7 L423.5,199.3 L424.0,199.4 L424.5,199.0 L425.0,200.0 L425.5,199.5 L426.0,199.3 L426.5,199.2 L427.0,200.1 L427.5,199.1 L428.0,200.7 L428.5,199.2 L429.0,199.2 L429.5,199.1 L430.0,199.1 L430.5,200.2 L431.0,199.6 L431.5,199.1 L432.0,201.1 L432.5,199.7 L433.0,200.2 L433.5,199.5 L434.0,199.3 L434.5,199.2 L435.0,199.4 L435.5,199.4 L436.0,202.2 L436.5,199.8 L437.0,199.5 L437.5,199.1 L438.0,199.2 L438.5,199.1 L439.0,199.4 L439.5,200.5 L440.0,199.5 L440.5,201.4 L441.0,199.2 L441.5,199.2 L442.0,199.0 L442.5,200.1 L443.0,200.1 L443.5,199.3 L444.0,199.2 L444.5,199.2 L445.0,199.5 L445.5,199.2 L446.0,199.8 L446.5,199.7 L447.0,199.9 L447.5,199.7 L448.0,199.3 L448.5,199.1 L449.0,199.0 L449.5,199.9 L450.0,199.4 L450.5,200.4 L451.0,199.9 L451.5,200.6 L452.0,200.1 L452.5,199.0 L453.0,199.1 L453.5,199.3 L454.0,201.6 L454.5,200.1 L455.0,199.2 L455.5,199.0 L456.0,200.0 L456.5,199.4 L457.0,199.1 L457.5,199.7 L458.0,200.9 L458.5,199.2 L459.0,199.2 L459.5,202.0 L460.0,199.5 L460.5,199.7 L461.0,200.0 L461.5,199.5 L462.0,199.3 L462.5,199.5 L463.0,200.1 L463.5,199.2 L464.0,199.4 L464.5,200.6 L465.0,200.3 L465.5,199.3 L466.0,199.5 L466.5,199.2 L467.0,199.3 L467.5,202.7 L468.0,199.9 L468.5,199.1 L469.0,200.5 L469.5,199.5 L470.0,199.2 L470.5,201.4 L471.0,199.2 L471.5,199.0 L472.0,199.0 L472.5,199.4 L473.0,200.7 L473.5,200.0 L474.0,199.1 L474.5,200.6 L475.0,201.8 L475.5,199.6 L476.0,199.6 L476.5,199.1 L477.0,199.4 L477.5,199.0 L478.0,199.0 L478.5,199.9 L479.0,199.0 L479.5,199.9 L480.0,199.3 L480.5,199.6 L481.0,199.1 L481.5,199.2 L482.0,199.1 L482.5,200.8 L483.0,201.4 L483.5,199.6 L484.0,200.2 L484.5,199.1 L485.0,199.3 L485.5,199.1 L486.0,199.5 L486.5,199.8 L487.0,199.2 L487.5,199.5 L488.0,199.1 L488.5,199.2 L489.0,201.7 L489.5,199.4 L490.0,200.3 L490.5,199.5 L491.0,199.1 L491.5,199.0 L492.0,199.6 L492.5,200.0 L493.0,199.1 L493.5,200.2 L494.0,199.1 L494.5,199.7 L495.0,199.4 L495.5,199.1 L496.0,199.6 L496.5,201.9 L497.0,200.5 L497.5,199.1 L498.0,199.3 L498.5,199.4 L499.0,202.2 L499.5,199.0 L500.0,199.2 L500.5,199.2 L501.0,199.7 L501.5,199.2 L502.0,199.3 L502.5,199.5 L503.0,199.4 L503.5,199.6 L504.0,201.3 L504.5,200.2 L505.0,199.3 L505.5,199.6 L506.0,199.6 L506.5,200.0 L507.0,199.5 L507.5,199.5 L508.0,201.9 L508.5,200.0 L509.0,199.4 L509.5,199.4 L510.0,199.4 L510.5,199.7 L511.0,200.5 L511.5,199.6 L512.0,199.7 L512.5,199.8 L513.0,199.2 L513.5,200.2 L514.0,200.7 L514.5,200.2 L515.0,199.1 L515.5,202.7 L516.0,200.6 L516.5,199.1 L517.0,200.5 L517.5,199.5 L518.0,199.2 L518.5,199.5 L519.0,199.3 L519.5,199.9 L520.0,199.6 L520.5,200.0 L521.0,199.1 L521.5,199.1 L522.0,199.4 L522.5,200.5 L523.0,199.8 L523.5,200.1 L524.0,199.0 L524.5,199.5 L525.0,199.3 L525.5,200.6 L526.0,201.9 L526.5,201.5 L527.0,199.0 L527.5,199.7 L528.0,199.6 L528.5,200.1 L529.0,199.4 L529.5,201.4 L530.0,199.0 L530.5,199.0 L531.0,199.5 L531.5,199.5 L532.0,199.4 L532.5,201.4 L533.0,199.4 L533.5,202.9 L534.0,199.3 L534.5,199.3 L535.0,199.3 L535.5,201.2 L536.0,200.9 L536.5,199.3 L537.0,199.2 L537.5,201.7 L538.0,203.1 L538.5,199.4 L539.0,199.1 L539.5,199.8 L540.0,200.7 L540.5,199.4 L541.0,199.7 L541.5,199.4 L542.0,199.1 L542.5,199.1 L542.5,273.7 L542.0,276.2 L541.5,275.6 L541.0,276.0 L540.5,276.1 L540.0,275.9 L539.5,276.2 L539.0,275.8 L538.5,276.2 L538.0,275.2 L537.5,276.0 L537.0,275.8 L536.5,275.8 L536.0,275.7 L535.5,275.0 L535.0,273.4 L534.5,275.4 L534.0,276.2 L533.5,275.8 L533.0,275.3 L532.5,275.8 L532.0,276.1 L531.5,275.9 L531.0,273.8 L530.5,275.6 L530.0,275.7 L529.5,276.2 L529.0,274.6 L528.5,274.4 L528.0,275.9 L527.5,275.7 L527.0,276.2 L526.5,275.5 L526.0,275.8 L525.5,276.2 L525.0,275.3 L524.5,274.6 L524.0,275.9 L523.5,274.6 L523.0,276.1 L522.5,273.5 L522.0,275.9 L521.5,275.5 L521.0,275.7 L520.5,274.4 L520.0,275.9 L519.5,275.5 L519.0,276.2 L518.5,276.2 L518.0,274.5 L517.5,276.0 L517.0,274.2 L516.5,276.2 L516.0,276.2 L515.5,275.6 L515.0,275.9 L514.5,276.2 L514.0,275.7 L513.5,275.8 L513.0,275.8 L512.5,276.0 L512.0,275.1 L511.5,275.6 L511.0,276.0 L510.5,275.4 L510.0,276.0 L509.5,276.1 L509.0,275.6 L508.5,274.6 L508.0,275.8 L507.5,275.9 L507.0,275.7 L506.5,276.0 L506.0,274.6 L505.5,274.9 L505.0,276.0 L504.5,276.0 L504.0,275.9 L503.5,276.1 L503.0,275.7 L502.5,275.5 L502.0,276.1 L501.5,275.6 L501.0,272.9 L500.5,276.0 L500.0,276.2 L499.5,276.2 L499.0,274.3 L498.5,275.5 L498.0,276.0 L497.5,275.8 L497.0,275.6 L496.5,274.2 L496.0,276.1 L495.5,275.0 L495.0,276.1 L494.5,275.9 L494.0,276.2 L493.5,275.9 L493.0,275.7 L492.5,276.3 L492.0,276.3 L491.5,276.2 L491.0,276.1 L490.5,275.6 L490.0,276.0 L489.5,275.5 L489.0,275.6 L488.5,275.8 L488.0,276.3 L487.5,276.1 L487.0,275.6 L486.5,275.4 L486.0,275.2 L485.5,275.8 L485.0,276.2 L484.5,276.3 L484.0,276.1 L483.5,276.2 L483.0,274.8 L482.5,276.1 L482.0,275.8 L481.5,276.3 L481.0,274.6 L480.5,276.3 L480.0,275.7 L479.5,275.9 L479.0,275.8 L478.5,275.6 L478.0,275.8 L477.5,275.9 L477.0,276.1 L476.5,275.0 L476.0,276.3 L475.5,276.1 L475.0,276.1 L474.5,275.9 L474.0,275.9 L473.5,276.1 L473.0,276.2 L472.5,276.3 L472.0,275.5 L471.5,274.9 L471.0,275.8 L470.5,276.0 L470.0,276.1 L469.5,275.3 L469.0,275.9 L468.5,276.2 L468.0,276.2 L467.5,274.0 L467.0,274.5 L466.5,275.4 L466.0,275.6 L465.5,276.3 L465.0,276.1 L464.5,276.0 L464.0,276.1 L463.5,275.7 L463.0,274.8 L462.5,275.9 L462.0,273.7 L461.5,276.3 L461.0,273.6 L460.5,275.8 L460.0,276.2 L459.5,275.9 L459.0,271.5 L458.5,274.4 L458.0,276.1 L457.5,274.9 L457.0,275.7 L456.5,275.9 L456.0,275.9 L455.5,276.0 L455.0,276.0 L454.5,275.0 L454.0,273.8 L453.5,276.1 L453.0,274.0 L452.5,276.1 L452.0,276.0 L451.5,275.4 L451.0,275.8 L450.5,276.2 L450.0,276.3 L449.5,276.2 L449.0,276.1 L448.5,275.2 L448.0,276.2 L447.5,275.0 L447.0,275.9 L446.5,275.7 L446.0,275.3 L445.5,276.0 L445.0,276.3 L444.5,276.3 L444.0,276.0 L443.5,276.2 L443.0,276.1 L442.5,276.2 L442.0,276.2 L441.5,276.3 L441.0,275.8 L440.5,276.2 L440.0,275.6 L439.5,276.0 L439.0,274.7 L438.5,276.3 L438.0,275.9 L437.5,275.5 L437.0,275.8 L436.5,275.8 L436.0,275.7 L435.5,276.3 L435.0,275.7 L434.5,273.2 L434.0,275.4 L433.5,276.1 L433.0,276.3 L432.5,275.5 L432.0,276.0 L431.5,276.3 L431.0,276.0 L430.5,276.2 L430.0,276.1 L429.5,276.2 L429.0,276.0 L428.5,275.9 L428.0,274.8 L427.5,275.9 L427.0,276.0 L426.5,275.8 L426.0,275.8 L425.5,276.0 L425.0,275.6 L424.5,276.1 L424.0,274.8 L423.5,276.1 L423.0,276.0 L422.5,276.1 L422.0,275.7 L421.5,272.6 L421.0,275.3 L420.5,275.8 L420.0,276.3 L419.5,275.6 L419.0,275.8 L418.5,275.5 L418.0,275.7 L417.5,275.5 L417.0,276.1 L416.5,275.2 L416.0,275.5 L415.5,276.2 L415.0,276.2 L414.5,276.2 L414.0,275.8 L413.5,275.9 L413.0,275.4 L412.5,273.4 L412.0,272.7 L411.5,274.6 L411.0,275.7 L410.5,276.0 L410.0,276.2 L409.5,276.1 L409.0,275.5 L408.5,274.5 L408.0,273.4 L407.5,276.3 L407.0,272.7 L406.5,276.0 L406.0,276.2 L405.5,273.0 L405.0,275.6 L404.5,275.7 L404.0,276.3 L403.5,276.3 L403.0,275.0 L402.5,273.9 L402.0,276.2 L401.5,275.9 L401.0,275.3 L400.5,274.4 L400.0,275.6 L399.5,275.5 L399.0,276.0 L398.5,276.2 L398.0,274.7 L397.5,276.3 L397.0,275.7 L396.5,275.8 L396.0,275.2 L395.5,276.1 L395.0,275.6 L394.5,275.8 L394.0,273.0 L393.5,276.2 L393.0,276.2 L392.5,274.7 L392.0,275.7 L391.5,276.0 L391.0,275.7 L390.5,276.2 L390.0,276.0 L389.5,276.3 L389.0,276.2 L388.5,276.2 L388.0,276.1 L387.5,273.7 L387.0,275.7 L386.5,276.0 L386.0,276.2 L385.5,273.4 L385.0,272.2 L384.5,275.6 L384.0,276.3 L383.5,275.6 L383.0,275.0 L382.5,276.1 L382.0,275.7 L381.5,275.3 L381.0,272.9 L380.5,276.0 L380.0,276.1 L379.5,274.8 L379.0,276.0 L378.5,274.8 L378.0,276.3 L377.5,276.2 L377.0,273.8 L376.5,275.5 L376.0,275.6 L375.5,275.9 L375.0,275.8 L374.5,275.7 L374.0,276.0 L373.5,276.0 L373.0,275.0 L372.5,276.2 L372.0,273.4 L371.5,274.6 L371.0,275.3 L370.5,276.3 L370.0,275.4 L369.5,276.3 L369.0,274.7 L368.5,275.5 L368.0,276.3 L367.5,275.9 L367.0,275.3 L366.5,276.0 L366.0,276.2 L365.5,273.2 L365.0,276.2 L364.5,275.7 L364.0,275.8 L363.5,275.5 L363.0,275.9 L362.5,275.2 L362.0,275.2 L361.5,276.2 L361.0,275.9 L360.5,276.3 L360.0,276.2 L359.5,275.6 L359.0,275.9 L358.5,275.9 L358.0,276.1 L357.5,275.8 L357.0,276.1 L356.5,273.7 L356.0,276.1 L355.5,273.4 L355.0,272.6 L354.5,274.9 L354.0,276.2 L353.5,275.7 L353.0,274.2 L352.5,274.2 L352.0,276.1 L351.5,275.5 L351.0,274.8 L350.5,276.3 L350.0,276.2 L349.5,275.9 L349.0,275.1 L348.5,275.1 L348.0,276.3 L347.5,273.7 L347.0,276.1 L346.5,276.2 L346.0,275.2 L345.5,274.6 L345.0,276.1 L344.5,276.3 L344.0,275.7 L343.5,276.3 L343.0,276.2 L342.5,276.1 L342.0,276.2 L341.5,275.2 L341.0,273.2 L340.5,275.9 L340.0,276.2 L339.5,275.6 L339.0,275.8 L338.5,276.1 L338.0,275.9 L337.5,276.1 L337.0,275.3 L336.5,276.2 L336.0,275.6 L335.5,275.4 L335.0,275.3 L334.5,275.8 L334.0,276.1 L333.5,275.6 L333.0,275.7 L332.5,276.2 L332.0,275.0 L331.5,275.5 L331.0,276.1 L330.5,275.4 L330.0,276.0 L329.5,276.0 L329.0,275.8 L328.5,275.5 L328.0,276.2 L327.5,275.4 L327.0,275.9 L326.5,275.8 L326.0,275.4 L325.5,276.2 L325.0,275.7 L324.5,274.9 L324.0,276.1 L323.5,275.9 L323.0,276.1 L322.5,276.3 L322.0,276.2 L321.5,276.3 L321.0,276.1 L320.5,275.9 L320.0,275.7 L319.5,276.2 L319.0,276.3 L318.5,274.3 L318.0,275.5 L317.5,276.0 L317.0,276.3 L316.5,275.5 L316.0,276.1 L315.5,276.2 L315.0,276.3 L314.5,275.2 L314.0,275.9 L313.5,276.1 L313.0,273.4 L312.5,276.3 L312.0,276.0 L311.5,274.9 L311.0,275.2 L310.5,273.2 L310.0,274.8 L309.5,276.2 L309.0,276.2 L308.5,275.7 L308.0,276.0 L307.5,275.5 L307.0,276.1 L306.5,276.0 L306.0,275.0 L305.5,276.2 L305.0,276.1 L304.5,274.4 L304.0,275.9 L303.5,276.0 L303.0,276.2 L302.5,276.0 L302.0,276.3 L301.5,274.3 L301.0,276.1 L300.5,275.5 L300.0,275.5 L299.5,276.0 L299.0,276.0 L298.5,276.2 L298.0,276.0 L297.5,275.9 L297.0,276.2 L296.5,275.0 L296.0,275.8 L295.5,275.9 L295.0,276.1 L294.5,275.0 L294.0,276.1 L293.5,275.7 L293.0,276.2 L292.5,275.8 L292.0,275.9 L291.5,276.3 L291.0,275.5 L290.5,276.2 L290.0,275.5 L289.5,276.2 L289.0,275.0 L288.5,276.2 L288.0,275.5 L287.5,275.1 L287.0,276.1 L286.5,276.0 L286.0,276.3 L285.5,275.9 L285.0,275.6 L284.5,276.0 L284.0,276.3 L283.5,276.2 L283.0,275.2 L282.5,276.1 L282.0,275.4 L281.5,276.1 L281.0,276.3 L280.5,276.2 L280.0,274.6 L279.5,276.0 L279.0,275.1 L278.5,275.8 L278.0,275.4 L277.5,273.2 L277.0,275.4 L276.5,272.8 L276.0,276.2 L275.5,276.2 L275.0,275.1 L274.5,276.2 L274.0,276.2 L273.5,276.3 L273.0,275.9 L272.5,275.1 L272.0,275.9 L271.5,274.1 L271.0,275.4 L270.5,275.8 L270.0,275.4 L269.5,275.9 L269.0,276.1 L268.5,276.1 L268.0,275.2 L267.5,276.3 L267.0,275.9 L266.5,274.2 L266.0,276.0 L265.5,276.1 L265.0,275.6 L264.5,276.1 L264.0,275.8 L263.5,275.2 L263.0,276.1 L262.5,274.1 L262.0,275.4 L261.5,275.8 L261.0,275.7 L260.5,276.2 L260.0,275.9 L259.5,276.0 L259.0,273.1 L258.5,276.1 L258.0,275.9 L257.5,275.9 L257.0,276.1 L256.5,275.5 L256.0,276.0 L255.5,275.7 L255.0,273.2 L254.5,276.1 L254.0,275.4 L253.5,275.3 L253.0,275.6 L252.5,275.8 L252.0,275.7 L251.5,276.3 L251.0,275.4 L250.5,274.9 L250.0,275.9 L249.5,274.8 L249.0,276.0 L248.5,276.2 L248.0,276.1 L247.5,276.0 L247.0,274.4 L246.5,275.8 L246.0,276.1 L245.5,276.0 L245.0,272.0 L244.5,275.7 L244.0,276.3 L243.5,276.3 L243.0,275.5 L242.5,275.2 L242.0,275.9 L241.5,275.8 L241.0,276.1 L240.5,276.1 L240.0,275.9 L239.5,275.9 L239.0,276.1 L238.5,275.4 L238.0,276.1 L237.5,276.1 L237.0,276.2 L236.5,275.8 L236.0,275.4 L235.5,276.2 L235.0,276.1 L234.5,273.2 L234.0,275.4 L233.5,276.0 L233.0,276.0 L232.5,275.9 L232.0,275.8 L231.5,275.2 L231.0,276.3 L230.5,276.2 L230.0,274.7 L229.5,276.2 L229.0,276.1 L228.5,274.8 L228.0,275.7 L227.5,276.3 L227.0,276.3 L226.5,275.8 L226.0,276.2 L225.5,276.0 L225.0,276.1 L224.5,276.0 L224.0,276.3 L223.5,276.2 L223.0,275.6 L222.5,276.2 L222.0,276.2 L221.5,276.1 L221.0,275.3 L220.5,276.2 L220.0,275.7 L219.5,276.1 L219.0,276.0 L218.5,275.0 L218.0,276.2 L217.5,276.0 L217.0,276.2 L216.5,275.6 L216.0,273.6 L215.5,273.4 L215.0,276.3 L214.5,275.7 L214.0,276.3 L213.5,275.1 L213.0,276.3 L212.5,275.8 L212.0,276.1 L211.5,275.9 L211.0,276.2 L210.5,276.0 L210.0,275.8 L209.5,276.1 L209.0,275.9 L208.5,276.2 L208.0,275.9 L207.5,276.2 L207.0,275.3 L206.5,276.1 L206.0,275.9 L205.5,275.2 L205.0,275.4 L204.5,275.8 L204.0,274.9 L203.5,275.8 L203.0,276.2 L202.5,276.2 L202.0,273.4 L201.5,276.1 L201.0,275.9 L200.5,275.6 L200.0,275.1 L199.5,275.6 L199.0,275.8 L198.5,276.3 L198.0,276.2 L197.5,275.4 L197.0,276.1 L196.5,276.2 L196.0,276.2 L195.5,276.2 L195.0,274.5 L194.5,275.4 L194.0,275.9 L193.5,273.6 L193.0,276.0 L192.5,275.7 L192.0,275.9 L191.5,276.2 L191.0,275.9 L190.5,275.4 L190.0,274.7 L189.5,273.4 L189.0,276.1 L188.5,275.8 L188.0,274.6 L187.5,275.3 L187.0,275.8 L186.5,275.5 L186.0,276.1 L185.5,274.0 L185.0,276.3 L184.5,275.3 L184.0,275.6 L183.5,273.6 L183.0,276.2 L182.5,274.9 L182.0,276.1 L181.5,275.7 L181.0,276.2 L180.5,275.8 L180.0,276.3 L179.5,276.3 L179.0,276.2 L178.5,276.3 L178.0,276.0 L177.5,276.0 L177.0,275.9 L176.5,275.1 L176.0,276.0 L175.5,275.2 L175.0,276.0 L174.5,275.3 L174.0,275.9 L173.5,272.0 L173.0,275.2 L172.5,276.3 L172.0,272.8 L171.5,276.1 L171.0,276.2 L170.5,276.1 L170.0,275.6 L169.5,276.1 L169.0,275.9 L168.5,273.2 L168.0,274.4 L167.5,276.1 L167.0,274.9 L166.5,275.2 L166.0,276.1 L165.5,275.3 L165.0,276.2 L164.5,274.6 L164.0,275.4 L163.5,273.8 L163.0,274.9 L162.5,276.1 L162.0,275.5 L161.5,276.1 L161.0,276.2 L160.5,275.0 L160.0,276.3 L159.5,276.1 L159.0,274.5 L158.5,276.1 L158.0,275.8 L157.5,274.8 L157.0,274.8 L156.5,275.3 L156.0,275.2 L155.5,276.1 L155.0,273.1 L154.5,275.1 L154.0,275.6 L153.5,276.3 L153.0,276.3 L152.5,273.8 L152.0,275.6 L151.5,274.3 L151.0,274.7 L150.5,275.9 L150.0,276.0 L149.5,275.8 L149.0,273.4 L148.5,274.8 L148.0,276.3 L147.5,276.1 L147.0,276.2 L146.5,275.0 L146.0,276.0 L145.5,276.3 L145.0,275.7 L144.5,275.8 L144.0,275.2 L143.5,276.2 L143.0,275.7 L142.5,276.3 L142.0,276.2 L141.5,275.8 L141.0,275.9 L140.5,275.6 L140.0,275.7 L139.5,276.2 L139.0,276.1 L138.5,275.2 L138.0,275.5 L137.5,276.2 L137.0,275.7 L136.5,273.3 L136.0,276.2 L135.5,275.4 L135.0,275.7 L134.5,276.1 L134.0,276.2 L133.5,276.2 L133.0,276.3 L132.5,275.7 L132.0,275.7 L131.5,275.5 L131.0,276.0 L130.5,276.0 L130.0,276.0 L129.5,275.2 L129.0,276.1 L128.5,276.2 L128.0,276.1 L127.5,276.0 L127.0,275.3 L126.5,273.0 L126.0,276.2 L125.5,275.8 L125.0,274.8 L124.5,276.2 L124.0,275.6 L123.5,275.7 L123.0,275.7 L122.5,275.2 L122.0,275.3 L121.5,274.3 L121.0,275.8 L120.5,276.3 L120.0,274.5 L119.5,276.0 L119.0,275.9 L118.5,276.1 L118.0,275.6 L117.5,275.5 L117.0,276.2 L116.5,276.3 L116.0,275.4 L115.5,276.1 L115.0,276.0 L114.5,273.6 L114.0,276.2 L113.5,275.6 L113.0,276.3 L112.5,275.9 L112.0,275.3 L111.5,276.0 L111.0,275.8 L110.5,275.2 L110.0,274.0 L109.5,275.6 L109.0,276.1 L108.5,276.2 L108.0,276.0 L107.5,276.0 L107.0,275.7 L106.5,275.9 L106.0,276.3 L105.5,276.3 L105.0,276.2 L104.5,275.5 L104.0,275.5 L103.5,272.7 L103.0,275.8 L102.5,275.3 L102.0,276.2 L101.5,272.2 L101.0,275.5 L100.5,275.5 L100.0,276.0 L99.5,275.5 L99.0,274.9 L98.5,275.0 L98.0,276.2 L97.5,275.9 L97.0,276.2 L96.5,276.1 L96.0,275.3 L95.5,272.5 L95.0,275.2 L94.5,275.1 L94.0,274.9 L93.5,276.0 L93.0,276.2 L92.5,275.8 L92.0,272.8 L91.5,275.0 L91.0,275.9 L90.5,275.6 L90.0,276.2 L89.5,275.1 L89.0,276.2 L88.5,273.7 L88.0,275.7 L87.5,273.6 L87.0,275.5 L86.5,274.5 L86.0,274.8 L85.5,275.0 L85.0,275.6 L84.5,275.8 L84.0,275.2 L83.5,276.1 L83.0,276.0 L82.5,273.5 L82.0,275.2 L81.5,276.2 L81.0,276.0 L80.5,276.2 L80.0,275.8 L79.5,276.0 L79.0,276.3 L78.5,275.7 L78.0,276.0 L77.5,275.4 L77.0,275.5 L76.5,274.0 L76.0,276.3 L75.5,274.1 L75.0,275.4 L74.5,276.2 L74.0,274.7 L73.5,273.2 L73.0,276.0 L72.5,275.8 L72.0,275.4 L71.5,275.4 L71.0,275.9 L70.5,276.3 L70.0,274.7 L69.5,275.8 L69.0,276.2 L68.5,276.1 L68.0,276.0 L67.5,275.9 L67.0,275.6 L66.5,276.1 L66.0,275.4 L65.5,275.6 L65.0,275.5 L64.5,276.3 L64.0,276.0 L63.5,276.1 L63.0,274.8 L62.5,275.1 L62.0,275.8 L61.5,276.1 L61.0,276.1 L60.5,275.2 L60.0,272.0 L59.5,275.5 L59.0,275.6 L58.5,275.6 L58.0,276.0 L57.5,276.3 L57.0,275.7 L56.5,276.2 L56.0,276.2 L55.5,276.2 L55.0,275.9 L54.5,275.9 L54.0,276.2 L53.5,274.6 L53.0,276.0 L52.5,274.8 L52.0,276.0 L51.5,274.6 L51.0,276.2 L50.5,276.2 L50.0,275.9 L49.5,276.2 L49.0,274.8 L48.5,275.0 L48.0,276.2 L47.5,274.7 L47.0,274.3 L46.5,276.0 L46.0,275.0 L45.5,276.1 L45.0,275.8 L44.5,276.0 L44.0,276.2 L43.5,275.3 L43.0,274.6 L42.5,276.2 L42.0,274.8 L41.5,275.7 L41.0,275.5 L40.5,272.8 L40.0,275.8 L39.5,276.1 L39.0,273.8 L38.5,276.1Z" fill="#ff0000"/><rect x="38.5" y="195.5" width="504.0" height="84.3" fill="none" stroke="#6a6a6a" stroke-width="1.1"/><text x="38.5" y="295.8" text-anchor="middle" font-size="12.6">0</text><text x="126.5" y="295.8" text-anchor="middle" font-size="12.6">0.2</text><text x="214.5" y="295.8" text-anchor="middle" font-size="12.6">0.4</text><text x="302.5" y="295.8" text-anchor="middle" font-size="12.6">0.6</text><text x="390.5" y="295.8" text-anchor="middle" font-size="12.6">0.8</text><text x="478.5" y="295.8" text-anchor="middle" font-size="12.6">1</text><text x="33.8" y="203.6" text-anchor="end" font-size="12.6">1</text><text x="33.8" y="241.9" text-anchor="end" font-size="12.6">0</text><text x="33.8" y="280.3" text-anchor="end" font-size="12.6">-1</text><text x="288.3" y="190.2" text-anchor="middle" font-size="13.65" font-weight="bold">The signal in the time domain</text><text x="290.6" y="311.9" text-anchor="middle" font-size="13.8">Time, s</text><text transform="translate(16.9,238.55) rotate(-90)" text-anchor="middle" font-size="13.6">Amplitude</text><text x="157.4" y="331.5" font-size="11.3" textLength="244.6" lengthAdjust="spacingAndGlyphs">(<tspan font-weight="bold">b</tspan>) Waveform of encrypted file using secret key K1</text></g>
<g><path d="M126.5,369.6V453.9M214.5,369.6V453.9M302.5,369.6V453.9M390.5,369.6V453.9M478.5,369.6V453.9M38.5,373.4H542.5M38.5,411.8H542.5M38.5,450.1H542.5" stroke="#e6e6e6" stroke-width="1" fill="none"/><path d="M38.5,453.9v-5M38.5,369.6v5M126.5,453.9v-5M126.5,369.6v5M214.5,453.9v-5M214.5,369.6v5M302.5,453.9v-5M302.5,369.6v5M390.5,453.9v-5M390.5,369.6v5M478.5,453.9v-5M478.5,369.6v5M38.5,373.4h5M542.5,373.4h-5M38.5,411.8h5M542.5,411.8h-5M38.5,450.1h5M542.5,450.1h-5" stroke="#6a6a6a" stroke-width="1" fill="none"/><path d="M38.5,373.6 L39.0,374.8 L39.5,373.1 L40.0,373.2 L40.5,373.5 L41.0,375.7 L41.5,374.8 L42.0,373.4 L42.5,374.9 L43.0,373.6 L43.5,373.1 L44.0,373.2 L44.5,373.4 L45.0,375.9 L45.5,373.5 L46.0,373.2 L46.5,373.8 L47.0,374.1 L47.5,373.6 L48.0,373.3 L48.5,373.3 L49.0,374.2 L49.5,374.3 L50.0,374.4 L50.5,373.2 L51.0,375.2 L51.5,373.6 L52.0,374.1 L52.5,373.2 L53.0,373.3 L53.5,375.5 L54.0,373.4 L54.5,373.5 L55.0,373.2 L55.5,373.2 L56.0,375.5 L56.5,373.1 L57.0,375.1 L57.5,373.1 L58.0,375.2 L58.5,373.8 L59.0,373.2 L59.5,373.3 L60.0,373.7 L60.5,375.3 L61.0,373.2 L61.5,373.5 L62.0,373.7 L62.5,375.4 L63.0,375.0 L63.5,373.8 L64.0,373.4 L64.5,373.5 L65.0,373.8 L65.5,374.1 L66.0,373.4 L66.5,373.7 L67.0,373.5 L67.5,374.1 L68.0,373.3 L68.5,373.6 L69.0,373.7 L69.5,373.5 L70.0,375.8 L70.5,373.4 L71.0,373.7 L71.5,373.3 L72.0,374.0 L72.5,373.8 L73.0,375.2 L73.5,373.6 L74.0,373.4 L74.5,373.8 L75.0,373.2 L75.5,374.7 L76.0,375.6 L76.5,373.3 L77.0,373.4 L77.5,373.2 L78.0,373.2 L78.5,373.2 L79.0,373.3 L79.5,375.6 L80.0,374.9 L80.5,374.3 L81.0,374.7 L81.5,373.9 L82.0,373.1 L82.5,374.6 L83.0,373.2 L83.5,373.8 L84.0,373.4 L84.5,373.6 L85.0,373.2 L85.5,373.2 L86.0,373.8 L86.5,373.7 L87.0,373.9 L87.5,373.6 L88.0,373.2 L88.5,373.2 L89.0,373.3 L89.5,373.3 L90.0,373.1 L90.5,373.2 L91.0,376.0 L91.5,373.4 L92.0,373.2 L92.5,373.6 L93.0,376.4 L93.5,374.2 L94.0,373.3 L94.5,373.4 L95.0,374.2 L95.5,373.1 L96.0,374.2 L96.5,373.6 L97.0,373.2 L97.5,373.7 L98.0,373.2 L98.5,373.8 L99.0,373.1 L99.5,373.1 L100.0,374.7 L100.5,374.3 L101.0,374.6 L101.5,373.3 L102.0,373.1 L102.5,373.8 L103.0,374.1 L103.5,374.6 L104.0,374.1 L104.5,373.2 L105.0,373.2 L105.5,373.9 L106.0,373.4 L106.5,373.2 L107.0,373.6 L107.5,373.2 L108.0,373.6 L108.5,373.5 L109.0,373.5 L109.5,376.2 L110.0,373.5 L110.5,375.6 L111.0,374.6 L111.5,376.3 L112.0,373.2 L112.5,373.8 L113.0,373.7 L113.5,373.6 L114.0,373.4 L114.5,373.4 L115.0,373.2 L115.5,373.1 L116.0,373.3 L116.5,373.1 L117.0,373.9 L117.5,374.5 L118.0,373.2 L118.5,373.5 L119.0,373.1 L119.5,373.3 L120.0,375.5 L120.5,373.1 L121.0,376.5 L121.5,373.8 L122.0,373.2 L122.5,373.3 L123.0,373.2 L123.5,374.1 L124.0,373.9 L124.5,373.1 L125.0,373.4 L125.5,373.5 L126.0,373.5 L126.5,373.5 L127.0,373.5 L127.5,374.7 L128.0,373.1 L128.5,373.5 L129.0,373.1 L129.5,373.5 L130.0,373.7 L130.5,373.7 L131.0,373.6 L131.5,373.3 L132.0,373.3 L132.5,373.9 L133.0,373.6 L133.5,377.4 L134.0,373.6 L134.5,373.8 L135.0,373.5 L135.5,373.3 L136.0,375.2 L136.5,373.3 L137.0,374.7 L137.5,374.0 L138.0,373.8 L138.5,375.1 L139.0,373.2 L139.5,374.1 L140.0,374.6 L140.5,375.3 L141.0,374.0 L141.5,373.4 L142.0,373.2 L142.5,373.3 L143.0,375.7 L143.5,373.5 L144.0,373.6 L144.5,374.0 L145.0,375.1 L145.5,375.1 L146.0,374.8 L146.5,373.8 L147.0,373.4 L147.5,373.2 L148.0,376.0 L148.5,374.1 L149.0,374.0 L149.5,374.0 L150.0,373.9 L150.5,373.3 L151.0,374.7 L151.5,373.4 L152.0,373.1 L152.5,373.2 L153.0,373.7 L153.5,373.3 L154.0,373.1 L154.5,373.2 L155.0,373.3 L155.5,373.2 L156.0,373.2 L156.5,373.3 L157.0,373.4 L157.5,374.0 L158.0,373.7 L158.5,374.5 L159.0,375.9 L159.5,373.1 L160.0,374.6 L160.5,373.5 L161.0,374.5 L161.5,374.2 L162.0,373.6 L162.5,374.0 L163.0,373.1 L163.5,373.5 L164.0,374.1 L164.5,373.4 L165.0,374.7 L165.5,374.5 L166.0,373.4 L166.5,374.3 L167.0,376.7 L167.5,375.7 L168.0,377.4 L168.5,373.2 L169.0,375.2 L169.5,373.3 L170.0,374.0 L170.5,373.7 L171.0,373.4 L171.5,373.8 L172.0,373.6 L172.5,373.5 L173.0,373.3 L173.5,374.1 L174.0,374.3 L174.5,373.3 L175.0,374.6 L175.5,374.7 L176.0,373.9 L176.5,373.9 L177.0,373.3 L177.5,373.2 L178.0,374.1 L178.5,373.3 L179.0,373.1 L179.5,373.3 L180.0,373.9 L180.5,373.2 L181.0,373.3 L181.5,373.2 L182.0,373.5 L182.5,373.5 L183.0,373.2 L183.5,373.1 L184.0,374.7 L184.5,376.0 L185.0,373.7 L185.5,374.5 L186.0,373.3 L186.5,373.1 L187.0,374.2 L187.5,373.5 L188.0,373.5 L188.5,373.4 L189.0,375.1 L189.5,373.6 L190.0,373.7 L190.5,373.1 L191.0,373.9 L191.5,374.6 L192.0,373.4 L192.5,373.4 L193.0,373.3 L193.5,373.2 L194.0,373.3 L194.5,373.7 L195.0,373.9 L195.5,373.6 L196.0,377.5 L196.5,373.1 L197.0,373.8 L197.5,373.6 L198.0,373.2 L198.5,373.2 L199.0,373.3 L199.5,373.2 L200.0,373.7 L200.5,375.2 L201.0,373.3 L201.5,375.9 L202.0,373.7 L202.5,373.5 L203.0,373.8 L203.5,373.1 L204.0,373.5 L204.5,373.9 L205.0,373.7 L205.5,373.7 L206.0,373.2 L206.5,373.4 L207.0,374.5 L207.5,373.4 L208.0,373.8 L208.5,373.8 L209.0,373.1 L209.5,374.8 L210.0,373.4 L210.5,373.2 L211.0,373.2 L211.5,374.8 L212.0,373.7 L212.5,373.6 L213.0,373.1 L213.5,374.6 L214.0,373.7 L214.5,373.4 L215.0,373.4 L215.5,373.5 L216.0,373.6 L216.5,374.5 L217.0,373.2 L217.5,373.6 L218.0,373.9 L218.5,373.5 L219.0,374.7 L219.5,374.8 L220.0,373.6 L220.5,373.5 L221.0,373.6 L221.5,375.6 L222.0,373.3 L222.5,373.2 L223.0,373.4 L223.5,375.4 L224.0,373.9 L224.5,373.5 L225.0,373.3 L225.5,373.2 L226.0,373.5 L226.5,373.3 L227.0,373.2 L227.5,373.9 L228.0,373.2 L228.5,373.7 L229.0,373.8 L229.5,373.6 L230.0,373.4 L230.5,373.5 L231.0,373.7 L231.5,374.7 L232.0,375.4 L232.5,373.1 L233.0,373.5 L233.5,373.3 L234.0,374.1 L234.5,373.3 L235.0,373.9 L235.5,375.9 L236.0,375.0 L236.5,373.3 L237.0,373.6 L237.5,374.6 L238.0,373.3 L238.5,373.2 L239.0,373.3 L239.5,374.6 L240.0,373.7 L240.5,374.4 L241.0,373.1 L241.5,373.3 L242.0,373.1 L242.5,373.3 L243.0,375.1 L243.5,375.0 L244.0,374.0 L244.5,373.3 L245.0,373.2 L245.5,373.2 L246.0,373.3 L246.5,373.1 L247.0,374.3 L247.5,373.6 L248.0,376.2 L248.5,373.9 L249.0,374.9 L249.5,373.6 L250.0,374.0 L250.5,373.2 L251.0,373.7 L251.5,373.9 L252.0,373.2 L252.5,375.0 L253.0,373.5 L253.5,373.5 L254.0,373.1 L254.5,373.2 L255.0,375.3 L255.5,373.5 L256.0,373.2 L256.5,373.7 L257.0,373.3 L257.5,373.6 L258.0,376.1 L258.5,374.4 L259.0,373.4 L259.5,373.3 L260.0,374.3 L260.5,373.6 L261.0,373.6 L261.5,373.3 L262.0,373.2 L262.5,373.5 L263.0,373.7 L263.5,373.9 L264.0,373.8 L264.5,373.3 L265.0,373.8 L265.5,373.1 L266.0,373.1 L266.5,375.8 L267.0,373.6 L267.5,374.1 L268.0,376.3 L268.5,373.6 L269.0,373.2 L269.5,374.3 L270.0,373.2 L270.5,373.2 L271.0,373.9 L271.5,373.8 L272.0,373.3 L272.5,373.6 L273.0,373.8 L273.5,373.4 L274.0,373.1 L274.5,374.7 L275.0,373.2 L275.5,373.2 L276.0,373.1 L276.5,375.6 L277.0,373.9 L277.5,374.2 L278.0,373.4 L278.5,374.2 L279.0,373.3 L279.5,373.4 L280.0,373.1 L280.5,373.3 L281.0,373.5 L281.5,373.5 L282.0,373.3 L282.5,374.7 L283.0,373.4 L283.5,373.1 L284.0,373.2 L284.5,373.1 L285.0,373.8 L285.5,373.2 L286.0,373.5 L286.5,373.4 L287.0,373.4 L287.5,374.6 L288.0,374.4 L288.5,373.2 L289.0,375.9 L289.5,373.3 L290.0,373.9 L290.5,373.2 L291.0,374.0 L291.5,373.2 L292.0,373.2 L292.5,373.2 L293.0,373.5 L293.5,373.5 L294.0,373.1 L294.5,373.2 L295.0,373.7 L295.5,373.4 L296.0,373.4 L296.5,373.7 L297.0,373.5 L297.5,373.8 L298.0,373.6 L298.5,373.1 L299.0,373.5 L299.5,374.2 L300.0,373.9 L300.5,373.1 L301.0,373.3 L301.5,373.5 L302.0,373.4 L302.5,373.5 L303.0,374.4 L303.5,373.3 L304.0,373.4 L304.5,374.7 L305.0,375.8 L305.5,373.5 L306.0,373.8 L306.5,374.4 L307.0,373.1 L307.5,373.7 L308.0,374.0 L308.5,373.9 L309.0,373.6 L309.5,373.1 L310.0,373.7 L310.5,373.8 L311.0,373.9 L311.5,373.2 L312.0,373.5 L312.5,373.2 L313.0,374.6 L313.5,373.5 L314.0,374.0 L314.5,373.9 L315.0,373.6 L315.5,373.4 L316.0,373.1 L316.5,373.2 L317.0,377.1 L317.5,374.7 L318.0,373.8 L318.5,374.2 L319.0,375.0 L319.5,375.1 L320.0,373.2 L320.5,373.1 L321.0,373.1 L321.5,373.7 L322.0,374.3 L322.5,374.8 L323.0,373.4 L323.5,373.2 L324.0,373.6 L324.5,373.3 L325.0,374.6 L325.5,373.5 L326.0,373.9 L326.5,373.3 L327.0,373.2 L327.5,373.2 L328.0,373.3 L328.5,373.3 L329.0,373.5 L329.5,373.2 L330.0,373.4 L330.5,373.1 L331.0,373.5 L331.5,374.0 L332.0,373.3 L332.5,374.8 L333.0,373.6 L333.5,373.3 L334.0,374.4 L334.5,374.9 L335.0,373.7 L335.5,373.1 L336.0,374.7 L336.5,373.6 L337.0,373.8 L337.5,373.2 L338.0,377.4 L338.5,374.2 L339.0,373.2 L339.5,373.3 L340.0,373.4 L340.5,373.5 L341.0,373.7 L341.5,373.3 L342.0,373.2 L342.5,373.5 L343.0,373.7 L343.5,373.3 L344.0,373.2 L344.5,373.1 L345.0,373.6 L345.5,373.5 L346.0,373.5 L346.5,374.3 L347.0,374.7 L347.5,373.5 L348.0,373.2 L348.5,373.1 L349.0,373.6 L349.5,374.8 L350.0,373.2 L350.5,373.5 L351.0,373.1 L351.5,374.5 L352.0,373.4 L352.5,373.5 L353.0,373.6 L353.5,374.0 L354.0,375.7 L354.5,373.7 L355.0,373.7 L355.5,373.8 L356.0,373.6 L356.5,373.2 L357.0,374.5 L357.5,376.5 L358.0,373.3 L358.5,373.5 L359.0,373.4 L359.5,373.1 L360.0,373.7 L360.5,373.1 L361.0,374.4 L361.5,375.4 L362.0,374.9 L362.5,373.3 L363.0,373.7 L363.5,373.7 L364.0,373.2 L364.5,373.2 L365.0,374.8 L365.5,375.2 L366.0,373.3 L366.5,374.7 L367.0,373.7 L367.5,373.3 L368.0,373.7 L368.5,373.9 L369.0,374.5 L369.5,373.2 L370.0,374.6 L370.5,374.7 L371.0,373.8 L371.5,373.2 L372.0,373.3 L372.5,373.1 L373.0,374.2 L373.5,373.2 L374.0,373.8 L374.5,374.0 L375.0,373.3 L375.5,373.4 L376.0,373.8 L376.5,373.2 L377.0,373.3 L377.5,373.1 L378.0,374.0 L378.5,373.2 L379.0,373.9 L379.5,374.0 L380.0,373.3 L380.5,373.6 L381.0,373.5 L381.5,373.2 L382.0,373.2 L382.5,375.1 L383.0,373.2 L383.5,373.6 L384.0,373.3 L384.5,374.7 L385.0,374.8 L385.5,373.2 L386.0,373.6 L386.5,373.4 L387.0,374.0 L387.5,374.1 L388.0,373.2 L388.5,373.7 L389.0,373.9 L389.5,375.6 L390.0,375.7 L390.5,373.7 L391.0,374.9 L391.5,373.1 L392.0,373.2 L392.5,373.2 L393.0,373.4 L393.5,373.6 L394.0,374.0 L394.5,373.1 L395.0,373.3 L395.5,374.3 L396.0,373.2 L396.5,373.3 L397.0,373.5 L397.5,375.0 L398.0,373.2 L398.5,373.1 L399.0,374.1 L399.5,373.1 L400.0,373.5 L400.5,373.4 L401.0,373.3 L401.5,375.7 L402.0,373.2 L402.5,373.9 L403.0,375.9 L403.5,376.0 L404.0,375.8 L404.5,373.3 L405.0,373.5 L405.5,373.5 L406.0,374.1 L406.5,373.7 L407.0,374.6 L407.5,373.6 L408.0,373.3 L408.5,373.5 L409.0,374.1 L409.5,373.3 L410.0,373.4 L410.5,373.2 L411.0,373.5 L411.5,373.1 L412.0,373.2 L412.5,373.3 L413.0,374.8 L413.5,374.2 L414.0,373.3 L414.5,373.2 L415.0,373.2 L415.5,373.2 L416.0,373.5 L416.5,373.2 L417.0,373.7 L417.5,375.4 L418.0,374.7 L418.5,374.2 L419.0,373.3 L419.5,373.5 L420.0,373.9 L420.5,374.9 L421.0,373.5 L421.5,378.7 L422.0,374.0 L422.5,373.3 L423.0,374.2 L423.5,373.1 L424.0,373.1 L424.5,373.5 L425.0,373.4 L425.5,375.5 L426.0,373.2 L426.5,373.2 L427.0,373.2 L427.5,373.2 L428.0,373.3 L428.5,375.2 L429.0,373.4 L429.5,374.3 L430.0,374.1 L430.5,373.6 L431.0,376.3 L431.5,373.1 L432.0,373.1 L432.5,373.7 L433.0,373.4 L433.5,373.7 L434.0,374.7 L434.5,374.2 L435.0,374.9 L435.5,373.8 L436.0,373.3 L436.5,373.7 L437.0,373.5 L437.5,373.3 L438.0,373.4 L438.5,374.1 L439.0,373.2 L439.5,374.0 L440.0,373.2 L440.5,374.2 L441.0,373.1 L441.5,373.2 L442.0,373.2 L442.5,373.3 L443.0,373.6 L443.5,373.6 L444.0,373.1 L444.5,373.3 L445.0,373.1 L445.5,374.1 L446.0,374.1 L446.5,373.1 L447.0,373.9 L447.5,373.2 L448.0,373.1 L448.5,373.5 L449.0,374.4 L449.5,373.5 L450.0,373.4 L450.5,375.6 L451.0,373.3 L451.5,373.2 L452.0,373.4 L452.5,374.9 L453.0,373.6 L453.5,373.4 L454.0,373.2 L454.5,374.8 L455.0,376.5 L455.5,373.1 L456.0,373.2 L456.5,373.4 L457.0,373.5 L457.5,373.9 L458.0,376.5 L458.5,373.4 L459.0,373.6 L459.5,373.9 L460.0,373.2 L460.5,373.2 L461.0,374.2 L461.5,373.2 L462.0,373.2 L462.5,373.2 L463.0,374.1 L463.5,373.6 L464.0,373.4 L464.5,373.4 L465.0,373.1 L465.5,373.7 L466.0,373.4 L466.5,373.2 L467.0,373.3 L467.5,373.7 L468.0,373.6 L468.5,376.1 L469.0,373.6 L469.5,375.5 L470.0,374.6 L470.5,374.4 L471.0,374.6 L471.5,373.4 L472.0,373.6 L472.5,373.4 L473.0,373.9 L473.5,373.5 L474.0,374.2 L474.5,373.9 L475.0,373.1 L475.5,373.2 L476.0,373.1 L476.5,373.1 L477.0,374.0 L477.5,374.2 L478.0,373.6 L478.5,374.1 L479.0,373.4 L479.5,373.8 L480.0,373.1 L480.5,374.6 L481.0,374.1 L481.5,373.9 L482.0,373.3 L482.5,374.0 L483.0,374.6 L483.5,373.7 L484.0,373.6 L484.5,373.2 L485.0,373.2 L485.5,374.5 L486.0,374.3 L486.5,373.7 L487.0,376.3 L487.5,374.7 L488.0,373.7 L488.5,375.5 L489.0,373.2 L489.5,374.0 L490.0,373.1 L490.5,373.5 L491.0,375.8 L491.5,374.5 L492.0,373.6 L492.5,373.2 L493.0,373.6 L493.5,374.0 L494.0,376.1 L494.5,373.9 L495.0,374.0 L495.5,373.3 L496.0,375.3 L496.5,374.0 L497.0,374.4 L497.5,373.4 L498.0,373.2 L498.5,373.1 L499.0,373.1 L499.5,373.2 L500.0,375.0 L500.5,373.5 L501.0,374.5 L501.5,376.1 L502.0,373.9 L502.5,373.1 L503.0,373.2 L503.5,373.6 L504.0,374.2 L504.5,373.1 L505.0,373.1 L505.5,373.4 L506.0,373.9 L506.5,373.4 L507.0,375.5 L507.5,373.3 L508.0,374.6 L508.5,373.3 L509.0,373.2 L509.5,374.0 L510.0,374.0 L510.5,373.6 L511.0,374.3 L511.5,373.4 L512.0,373.1 L512.5,373.1 L513.0,373.2 L513.5,374.7 L514.0,373.3 L514.5,373.1 L515.0,374.9 L515.5,373.4 L516.0,373.1 L516.5,373.8 L517.0,374.1 L517.5,373.8 L518.0,373.3 L518.5,376.0 L519.0,373.2 L519.5,373.2 L520.0,373.5 L520.5,374.2 L521.0,373.3 L521.5,374.3 L522.0,375.0 L522.5,373.6 L523.0,373.3 L523.5,373.6 L524.0,373.6 L524.5,373.2 L525.0,373.2 L525.5,373.4 L526.0,373.4 L526.5,373.1 L527.0,375.9 L527.5,373.2 L528.0,375.6 L528.5,373.1 L529.0,374.4 L529.5,373.7 L530.0,373.3 L530.5,373.1 L531.0,375.9 L531.5,374.9 L532.0,375.7 L532.5,373.1 L533.0,373.3 L533.5,373.4 L534.0,373.1 L534.5,373.3 L535.0,373.2 L535.5,374.6 L536.0,374.7 L536.5,373.5 L537.0,373.3 L537.5,375.6 L538.0,373.3 L538.5,373.7 L539.0,374.2 L539.5,373.2 L540.0,374.0 L540.5,373.3 L541.0,373.4 L541.5,375.4 L542.0,376.4 L542.5,373.5 L542.5,450.1 L542.0,449.9 L541.5,447.3 L541.0,450.0 L540.5,450.3 L540.0,449.7 L539.5,449.9 L539.0,450.0 L538.5,450.4 L538.0,447.6 L537.5,448.5 L537.0,449.6 L536.5,448.6 L536.0,450.0 L535.5,450.3 L535.0,450.2 L534.5,450.0 L534.0,449.9 L533.5,449.7 L533.0,450.0 L532.5,450.4 L532.0,450.0 L531.5,450.0 L531.0,450.3 L530.5,450.1 L530.0,449.1 L529.5,450.3 L529.0,450.3 L528.5,450.2 L528.0,450.4 L527.5,450.3 L527.0,449.9 L526.5,448.6 L526.0,450.2 L525.5,450.4 L525.0,450.3 L524.5,447.0 L524.0,448.9 L523.5,450.4 L523.0,450.2 L522.5,449.7 L522.0,450.1 L521.5,450.0 L521.0,449.8 L520.5,450.4 L520.0,450.0 L519.5,450.3 L519.0,450.4 L518.5,449.8 L518.0,449.9 L517.5,450.4 L517.0,450.2 L516.5,449.3 L516.0,450.2 L515.5,450.4 L515.0,450.3 L514.5,448.6 L514.0,450.1 L513.5,450.0 L513.0,449.8 L512.5,449.2 L512.0,450.2 L511.5,448.9 L511.0,450.4 L510.5,448.8 L510.0,447.7 L509.5,448.9 L509.0,450.3 L508.5,448.1 L508.0,450.2 L507.5,449.8 L507.0,449.7 L506.5,449.8 L506.0,450.1 L505.5,450.0 L505.0,450.0 L504.5,449.4 L504.0,450.2 L503.5,450.0 L503.0,450.3 L502.5,450.3 L502.0,450.3 L501.5,449.7 L501.0,450.1 L500.5,450.3 L500.0,449.9 L499.5,449.8 L499.0,449.7 L498.5,450.3 L498.0,447.5 L497.5,450.2 L497.0,450.0 L496.5,449.7 L496.0,450.3 L495.5,449.2 L495.0,450.4 L494.5,447.7 L494.0,449.9 L493.5,450.0 L493.0,449.9 L492.5,449.3 L492.0,449.3 L491.5,450.2 L491.0,448.2 L490.5,450.1 L490.0,449.9 L489.5,448.8 L489.0,450.2 L488.5,450.2 L488.0,450.0 L487.5,449.8 L487.0,449.3 L486.5,449.8 L486.0,449.8 L485.5,449.6 L485.0,450.3 L484.5,449.7 L484.0,449.9 L483.5,450.3 L483.0,449.4 L482.5,449.9 L482.0,450.4 L481.5,449.6 L481.0,450.2 L480.5,448.3 L480.0,450.4 L479.5,450.3 L479.0,450.0 L478.5,449.7 L478.0,446.4 L477.5,450.0 L477.0,449.8 L476.5,450.0 L476.0,447.4 L475.5,450.4 L475.0,449.2 L474.5,449.4 L474.0,450.2 L473.5,449.8 L473.0,449.9 L472.5,450.3 L472.0,449.0 L471.5,449.8 L471.0,450.1 L470.5,450.4 L470.0,449.6 L469.5,450.2 L469.0,450.0 L468.5,449.4 L468.0,449.7 L467.5,449.2 L467.0,449.6 L466.5,450.4 L466.0,450.3 L465.5,449.0 L465.0,449.9 L464.5,449.5 L464.0,449.7 L463.5,449.4 L463.0,448.3 L462.5,450.3 L462.0,449.5 L461.5,450.2 L461.0,447.6 L460.5,449.2 L460.0,450.4 L459.5,449.2 L459.0,449.2 L458.5,447.6 L458.0,450.2 L457.5,450.2 L457.0,449.9 L456.5,450.3 L456.0,450.3 L455.5,449.4 L455.0,450.0 L454.5,450.2 L454.0,450.3 L453.5,450.3 L453.0,450.3 L452.5,450.2 L452.0,450.2 L451.5,450.4 L451.0,447.7 L450.5,450.3 L450.0,450.3 L449.5,450.3 L449.0,449.8 L448.5,450.0 L448.0,449.8 L447.5,449.9 L447.0,450.2 L446.5,449.9 L446.0,450.4 L445.5,450.0 L445.0,450.0 L444.5,449.9 L444.0,449.7 L443.5,449.7 L443.0,447.1 L442.5,450.4 L442.0,450.4 L441.5,449.6 L441.0,450.0 L440.5,450.4 L440.0,450.3 L439.5,450.1 L439.0,450.4 L438.5,449.2 L438.0,450.2 L437.5,450.0 L437.0,448.9 L436.5,450.4 L436.0,447.1 L435.5,448.1 L435.0,448.9 L434.5,449.8 L434.0,450.3 L433.5,449.7 L433.0,450.4 L432.5,449.8 L432.0,450.1 L431.5,450.2 L431.0,449.9 L430.5,449.7 L430.0,449.5 L429.5,450.0 L429.0,450.4 L428.5,449.4 L428.0,449.8 L427.5,448.9 L427.0,448.8 L426.5,450.1 L426.0,449.9 L425.5,450.1 L425.0,450.2 L424.5,450.2 L424.0,450.3 L423.5,450.4 L423.0,447.7 L422.5,450.3 L422.0,450.4 L421.5,449.3 L421.0,450.4 L420.5,450.4 L420.0,448.1 L419.5,449.8 L419.0,447.9 L418.5,449.4 L418.0,450.2 L417.5,449.5 L417.0,449.3 L416.5,450.4 L416.0,449.6 L415.5,450.1 L415.0,450.1 L414.5,450.1 L414.0,449.9 L413.5,450.3 L413.0,447.0 L412.5,448.1 L412.0,449.2 L411.5,450.3 L411.0,450.1 L410.5,447.5 L410.0,448.7 L409.5,447.2 L409.0,449.2 L408.5,450.1 L408.0,450.1 L407.5,450.2 L407.0,448.9 L406.5,450.3 L406.0,449.1 L405.5,449.6 L405.0,448.7 L404.5,450.3 L404.0,449.4 L403.5,449.6 L403.0,448.5 L402.5,450.2 L402.0,449.8 L401.5,450.2 L401.0,449.2 L400.5,449.1 L400.0,450.1 L399.5,450.3 L399.0,449.6 L398.5,450.4 L398.0,449.7 L397.5,450.0 L397.0,449.7 L396.5,450.1 L396.0,450.3 L395.5,449.9 L395.0,449.6 L394.5,450.1 L394.0,449.9 L393.5,449.0 L393.0,450.1 L392.5,449.0 L392.0,450.3 L391.5,448.2 L391.0,450.4 L390.5,449.2 L390.0,450.4 L389.5,449.6 L389.0,449.3 L388.5,450.4 L388.0,449.9 L387.5,450.3 L387.0,449.6 L386.5,446.5 L386.0,449.9 L385.5,448.8 L385.0,450.0 L384.5,450.1 L384.0,449.3 L383.5,448.7 L383.0,450.0 L382.5,449.8 L382.0,450.3 L381.5,450.4 L381.0,450.2 L380.5,449.0 L380.0,448.1 L379.5,449.9 L379.0,449.8 L378.5,449.9 L378.0,450.3 L377.5,450.4 L377.0,448.1 L376.5,450.1 L376.0,449.7 L375.5,447.4 L375.0,449.4 L374.5,449.6 L374.0,450.0 L373.5,449.6 L373.0,450.4 L372.5,449.3 L372.0,449.3 L371.5,450.0 L371.0,450.3 L370.5,448.5 L370.0,449.6 L369.5,450.3 L369.0,449.6 L368.5,450.2 L368.0,447.9 L367.5,450.2 L367.0,449.9 L366.5,450.0 L366.0,450.1 L365.5,450.1 L365.0,450.1 L364.5,450.4 L364.0,449.5 L363.5,450.2 L363.0,450.0 L362.5,450.0 L362.0,448.7 L361.5,447.0 L361.0,450.1 L360.5,449.6 L360.0,448.7 L359.5,449.6 L359.0,450.2 L358.5,449.4 L358.0,450.1 L357.5,450.3 L357.0,450.0 L356.5,447.0 L356.0,450.3 L355.5,450.1 L355.0,447.5 L354.5,450.4 L354.0,449.6 L353.5,449.8 L353.0,450.4 L352.5,449.9 L352.0,448.4 L351.5,449.6 L351.0,449.8 L350.5,448.9 L350.0,450.2 L349.5,449.7 L349.0,450.3 L348.5,449.9 L348.0,450.3 L347.5,450.4 L347.0,449.9 L346.5,450.3 L346.0,450.4 L345.5,447.3 L345.0,450.0 L344.5,447.7 L344.0,449.6 L343.5,449.6 L343.0,448.9 L342.5,448.9 L342.0,450.2 L341.5,449.5 L341.0,449.9 L340.5,450.4 L340.0,450.2 L339.5,448.7 L339.0,450.3 L338.5,449.5 L338.0,447.8 L337.5,447.7 L337.0,449.7 L336.5,450.3 L336.0,449.7 L335.5,449.2 L335.0,450.4 L334.5,450.2 L334.0,450.1 L333.5,446.9 L333.0,450.3 L332.5,449.1 L332.0,450.3 L331.5,449.5 L331.0,450.3 L330.5,450.0 L330.0,450.1 L329.5,450.1 L329.0,449.7 L328.5,449.8 L328.0,450.1 L327.5,450.3 L327.0,450.2 L326.5,450.2 L326.0,449.5 L325.5,449.8 L325.0,450.0 L324.5,447.0 L324.0,448.9 L323.5,450.1 L323.0,449.9 L322.5,450.2 L322.0,449.4 L321.5,449.1 L321.0,448.9 L320.5,450.3 L320.0,448.4 L319.5,450.1 L319.0,448.7 L318.5,449.4 L318.0,450.3 L317.5,449.0 L317.0,450.3 L316.5,450.3 L316.0,448.9 L315.5,449.6 L315.0,447.8 L314.5,450.3 L314.0,450.0 L313.5,450.1 L313.0,450.2 L312.5,449.7 L312.0,450.2 L311.5,450.3 L311.0,450.0 L310.5,450.2 L310.0,450.3 L309.5,450.0 L309.0,450.2 L308.5,450.3 L308.0,450.3 L307.5,449.3 L307.0,450.2 L306.5,450.0 L306.0,450.0 L305.5,448.9 L305.0,449.5 L304.5,449.5 L304.0,447.5 L303.5,450.4 L303.0,450.2 L302.5,450.3 L302.0,447.4 L301.5,449.2 L301.0,450.2 L300.5,449.7 L300.0,447.4 L299.5,450.3 L299.0,450.2 L298.5,450.1 L298.0,450.3 L297.5,450.4 L297.0,449.9 L296.5,449.0 L296.0,450.4 L295.5,449.5 L295.0,450.1 L294.5,449.8 L294.0,447.0 L293.5,446.1 L293.0,449.9 L292.5,449.7 L292.0,450.2 L291.5,449.9 L291.0,450.3 L290.5,450.1 L290.0,446.6 L289.5,448.7 L289.0,449.9 L288.5,450.3 L288.0,449.4 L287.5,449.0 L287.0,445.5 L286.5,448.2 L286.0,449.0 L285.5,450.1 L285.0,450.1 L284.5,450.1 L284.0,450.3 L283.5,448.9 L283.0,449.5 L282.5,445.5 L282.0,449.8 L281.5,450.2 L281.0,450.3 L280.5,447.8 L280.0,450.3 L279.5,449.8 L279.0,449.5 L278.5,448.8 L278.0,450.3 L277.5,450.1 L277.0,449.5 L276.5,450.0 L276.0,450.4 L275.5,450.2 L275.0,449.8 L274.5,449.9 L274.0,450.0 L273.5,450.3 L273.0,450.3 L272.5,446.9 L272.0,449.5 L271.5,450.4 L271.0,449.7 L270.5,450.3 L270.0,448.9 L269.5,448.0 L269.0,449.4 L268.5,450.3 L268.0,449.7 L267.5,450.1 L267.0,450.4 L266.5,449.7 L266.0,450.1 L265.5,449.9 L265.0,450.2 L264.5,449.5 L264.0,449.0 L263.5,450.0 L263.0,449.2 L262.5,449.6 L262.0,450.2 L261.5,449.6 L261.0,450.4 L260.5,450.0 L260.0,449.5 L259.5,447.2 L259.0,450.2 L258.5,449.7 L258.0,450.3 L257.5,447.4 L257.0,449.8 L256.5,449.1 L256.0,450.3 L255.5,450.2 L255.0,450.3 L254.5,449.5 L254.0,449.7 L253.5,449.4 L253.0,450.0 L252.5,449.4 L252.0,450.3 L251.5,450.2 L251.0,446.7 L250.5,450.1 L250.0,447.1 L249.5,449.7 L249.0,448.7 L248.5,448.6 L248.0,450.4 L247.5,450.2 L247.0,449.4 L246.5,448.0 L246.0,450.2 L245.5,449.4 L245.0,448.7 L244.5,450.1 L244.0,450.3 L243.5,449.2 L243.0,450.3 L242.5,450.4 L242.0,448.5 L241.5,449.4 L241.0,450.3 L240.5,450.1 L240.0,450.0 L239.5,450.2 L239.0,449.1 L238.5,448.7 L238.0,450.2 L237.5,449.7 L237.0,450.3 L236.5,449.4 L236.0,450.3 L235.5,447.6 L235.0,450.3 L234.5,450.3 L234.0,449.8 L233.5,450.1 L233.0,449.5 L232.5,449.1 L232.0,450.1 L231.5,450.4 L231.0,449.9 L230.5,450.4 L230.0,448.0 L229.5,449.4 L229.0,449.5 L228.5,450.0 L228.0,449.3 L227.5,449.9 L227.0,449.0 L226.5,449.4 L226.0,450.3 L225.5,448.5 L225.0,449.8 L224.5,450.2 L224.0,450.0 L223.5,449.2 L223.0,450.0 L222.5,449.0 L222.0,449.3 L221.5,450.4 L221.0,448.4 L220.5,450.1 L220.0,450.4 L219.5,450.3 L219.0,450.3 L218.5,449.7 L218.0,447.9 L217.5,449.5 L217.0,450.3 L216.5,446.8 L216.0,450.4 L215.5,449.5 L215.0,450.0 L214.5,450.2 L214.0,449.3 L213.5,450.3 L213.0,449.6 L212.5,450.4 L212.0,449.6 L211.5,450.3 L211.0,450.0 L210.5,449.8 L210.0,448.3 L209.5,450.3 L209.0,450.0 L208.5,450.3 L208.0,450.1 L207.5,449.7 L207.0,450.3 L206.5,448.1 L206.0,449.6 L205.5,448.6 L205.0,450.3 L204.5,450.1 L204.0,449.7 L203.5,446.6 L203.0,449.8 L202.5,450.2 L202.0,449.8 L201.5,448.8 L201.0,447.3 L200.5,449.2 L200.0,446.2 L199.5,450.0 L199.0,449.2 L198.5,450.3 L198.0,450.1 L197.5,450.0 L197.0,450.0 L196.5,450.0 L196.0,448.2 L195.5,450.2 L195.0,450.3 L194.5,450.4 L194.0,450.1 L193.5,450.2 L193.0,450.2 L192.5,449.4 L192.0,449.8 L191.5,450.3 L191.0,450.1 L190.5,448.9 L190.0,450.3 L189.5,450.2 L189.0,449.4 L188.5,450.3 L188.0,450.3 L187.5,450.3 L187.0,450.4 L186.5,450.4 L186.0,450.4 L185.5,448.9 L185.0,450.3 L184.5,449.9 L184.0,449.7 L183.5,450.3 L183.0,450.2 L182.5,449.7 L182.0,450.2 L181.5,449.1 L181.0,449.9 L180.5,447.6 L180.0,450.1 L179.5,450.3 L179.0,450.2 L178.5,447.7 L178.0,450.1 L177.5,450.4 L177.0,449.7 L176.5,450.0 L176.0,448.3 L175.5,450.3 L175.0,448.6 L174.5,450.1 L174.0,450.1 L173.5,449.8 L173.0,449.7 L172.5,450.2 L172.0,450.1 L171.5,449.9 L171.0,449.5 L170.5,449.2 L170.0,450.3 L169.5,449.6 L169.0,450.4 L168.5,449.2 L168.0,449.9 L167.5,449.4 L167.0,450.3 L166.5,450.4 L166.0,449.2 L165.5,450.4 L165.0,450.1 L164.5,450.0 L164.0,449.2 L163.5,450.1 L163.0,450.4 L162.5,450.4 L162.0,449.7 L161.5,449.8 L161.0,449.9 L160.5,450.2 L160.0,450.3 L159.5,450.1 L159.0,450.1 L158.5,449.7 L158.0,449.8 L157.5,449.7 L157.0,450.4 L156.5,447.6 L156.0,449.7 L155.5,450.0 L155.0,448.3 L154.5,449.2 L154.0,450.1 L153.5,450.0 L153.0,449.8 L152.5,450.4 L152.0,446.8 L151.5,449.6 L151.0,448.8 L150.5,450.3 L150.0,449.8 L149.5,449.8 L149.0,449.0 L148.5,450.1 L148.0,450.1 L147.5,450.4 L147.0,450.1 L146.5,450.0 L146.0,450.2 L145.5,449.9 L145.0,450.4 L144.5,449.4 L144.0,450.3 L143.5,450.2 L143.0,450.2 L142.5,450.1 L142.0,450.2 L141.5,449.8 L141.0,450.2 L140.5,447.6 L140.0,449.6 L139.5,450.1 L139.0,450.3 L138.5,450.1 L138.0,447.5 L137.5,450.4 L137.0,449.8 L136.5,449.7 L136.0,449.0 L135.5,450.0 L135.0,450.3 L134.5,449.7 L134.0,450.1 L133.5,450.4 L133.0,448.1 L132.5,450.0 L132.0,449.2 L131.5,450.3 L131.0,449.4 L130.5,448.0 L130.0,449.9 L129.5,448.8 L129.0,449.9 L128.5,450.1 L128.0,448.1 L127.5,448.5 L127.0,450.4 L126.5,450.2 L126.0,450.2 L125.5,449.9 L125.0,449.5 L124.5,450.3 L124.0,450.2 L123.5,450.4 L123.0,448.7 L122.5,449.9 L122.0,450.0 L121.5,450.4 L121.0,450.1 L120.5,450.3 L120.0,449.7 L119.5,450.2 L119.0,450.0 L118.5,449.2 L118.0,449.9 L117.5,448.2 L117.0,450.2 L116.5,450.3 L116.0,448.9 L115.5,450.1 L115.0,449.1 L114.5,450.0 L114.0,449.8 L113.5,448.5 L113.0,450.3 L112.5,448.7 L112.0,450.2 L111.5,449.7 L111.0,450.4 L110.5,449.7 L110.0,449.5 L109.5,450.2 L109.0,448.6 L108.5,449.3 L108.0,450.3 L107.5,450.2 L107.0,449.6 L106.5,448.8 L106.0,447.7 L105.5,450.1 L105.0,449.9 L104.5,449.6 L104.0,450.2 L103.5,450.2 L103.0,449.5 L102.5,450.3 L102.0,450.1 L101.5,450.3 L101.0,449.5 L100.5,447.4 L100.0,450.3 L99.5,450.1 L99.0,450.2 L98.5,450.2 L98.0,450.0 L97.5,449.9 L97.0,449.8 L96.5,449.7 L96.0,450.1 L95.5,448.5 L95.0,450.4 L94.5,450.2 L94.0,449.4 L93.5,450.2 L93.0,450.3 L92.5,450.4 L92.0,449.6 L91.5,449.8 L91.0,450.1 L90.5,449.3 L90.0,450.4 L89.5,449.1 L89.0,448.0 L88.5,450.4 L88.0,450.3 L87.5,447.9 L87.0,450.3 L86.5,448.9 L86.0,449.2 L85.5,450.3 L85.0,450.3 L84.5,450.1 L84.0,450.1 L83.5,449.2 L83.0,450.1 L82.5,448.6 L82.0,450.0 L81.5,449.5 L81.0,450.0 L80.5,450.0 L80.0,449.8 L79.5,446.9 L79.0,449.6 L78.5,450.1 L78.0,450.1 L77.5,450.4 L77.0,447.7 L76.5,450.4 L76.0,449.3 L75.5,450.3 L75.0,450.2 L74.5,450.2 L74.0,449.9 L73.5,450.3 L73.0,450.1 L72.5,449.2 L72.0,446.8 L71.5,448.9 L71.0,449.5 L70.5,449.3 L70.0,449.8 L69.5,449.8 L69.0,449.5 L68.5,450.2 L68.0,449.4 L67.5,449.5 L67.0,446.9 L66.5,450.3 L66.0,447.2 L65.5,449.8 L65.0,449.9 L64.5,450.1 L64.0,450.3 L63.5,448.3 L63.0,450.1 L62.5,450.0 L62.0,450.4 L61.5,449.7 L61.0,449.6 L60.5,449.7 L60.0,449.4 L59.5,449.4 L59.0,449.8 L58.5,448.5 L58.0,449.5 L57.5,450.3 L57.0,450.0 L56.5,447.3 L56.0,447.8 L55.5,450.2 L55.0,448.2 L54.5,449.5 L54.0,449.5 L53.5,450.1 L53.0,447.8 L52.5,450.1 L52.0,448.1 L51.5,450.4 L51.0,448.7 L50.5,450.4 L50.0,449.5 L49.5,449.6 L49.0,449.1 L48.5,449.1 L48.0,450.4 L47.5,450.1 L47.0,449.8 L46.5,449.7 L46.0,450.1 L45.5,449.6 L45.0,449.1 L44.5,449.3 L44.0,450.4 L43.5,450.0 L43.0,450.1 L42.5,449.8 L42.0,450.1 L41.5,445.7 L41.0,448.8 L40.5,449.0 L40.0,449.3 L39.5,450.3 L39.0,450.3 L38.5,450.3Z" fill="#ff0000"/><rect x="38.5" y="369.6" width="504.0" height="84.3" fill="none" stroke="#6a6a6a" stroke-width="1.1"/><text x="38.5" y="469.9" text-anchor="middle" font-size="12.6">0</text><text x="126.5" y="469.9" text-anchor="middle" font-size="12.6">0.2</text><text x="214.5" y="469.9" text-anchor="middle" font-size="12.6">0.4</text><text x="302.5" y="469.9" text-anchor="middle" font-size="12.6">0.6</text><text x="390.5" y="469.9" text-anchor="middle" font-size="12.6">0.8</text><text x="478.5" y="469.9" text-anchor="middle" font-size="12.6">1</text><text x="33.8" y="377.7" text-anchor="end" font-size="12.6">1</text><text x="33.8" y="416.1" text-anchor="end" font-size="12.6">0</text><text x="33.8" y="454.4" text-anchor="end" font-size="12.6">-1</text><text x="288.3" y="364.3" text-anchor="middle" font-size="13.65" font-weight="bold">The signal in the time domain</text><text x="290.6" y="486.0" text-anchor="middle" font-size="13.8">Time, s</text><text transform="translate(16.9,412.65) rotate(-90)" text-anchor="middle" font-size="13.6">Amplitude</text><text x="158.5" y="505.6" font-size="11.3" textLength="242.8" lengthAdjust="spacingAndGlyphs">(<tspan font-weight="bold">c</tspan>) Waveform of decrypted file using secret key K1</text></g>
</svg>
</body></html>
